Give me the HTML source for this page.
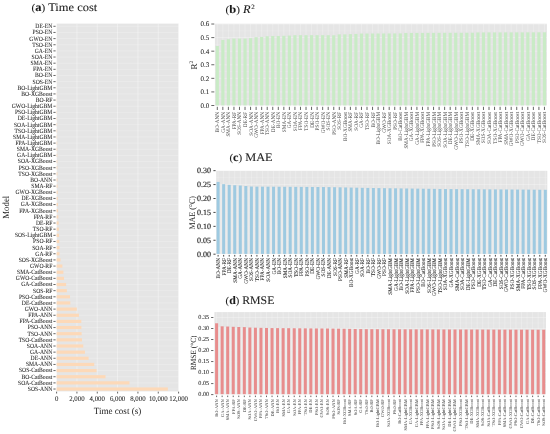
<!DOCTYPE html>
<html><head><meta charset="utf-8"><title>Figure</title>
<style>html,body{margin:0;padding:0;background:#fff;width:550px;height:434px;overflow:hidden}svg text{font-family:"Liberation Serif", serif;text-rendering:geometricPrecision} text.tl{stroke:#1E1E1E;stroke-width:0.06px} text.tb{stroke:#1E1E1E;stroke-width:0.15px} text.tt{stroke:#1A1A1A;stroke-width:0.08px}</style>
</head><body>
<svg width="550" height="434" viewBox="0 0 550 434" style="display:block;will-change:transform;filter:blur(0.3px)">
<rect x="0" y="0" width="550" height="434" fill="#FFFFFF"/>
<rect x="56.6" y="23.6" width="122" height="367.8" fill="#E5E5E5"/>
<line x1="56.6" y1="23.6" x2="56.6" y2="391.4" stroke="#FFFFFF" stroke-width="0.38"/>
<line x1="76.93" y1="23.6" x2="76.93" y2="391.4" stroke="#FFFFFF" stroke-width="0.38"/>
<line x1="97.27" y1="23.6" x2="97.27" y2="391.4" stroke="#FFFFFF" stroke-width="0.38"/>
<line x1="117.6" y1="23.6" x2="117.6" y2="391.4" stroke="#FFFFFF" stroke-width="0.38"/>
<line x1="137.93" y1="23.6" x2="137.93" y2="391.4" stroke="#FFFFFF" stroke-width="0.38"/>
<line x1="158.27" y1="23.6" x2="158.27" y2="391.4" stroke="#FFFFFF" stroke-width="0.38"/>
<line x1="178.6" y1="23.6" x2="178.6" y2="391.4" stroke="#FFFFFF" stroke-width="0.38"/>
<line x1="56.6" y1="26.3" x2="178.6" y2="26.3" stroke="#FFFFFF" stroke-width="0.22"/>
<line x1="56.6" y1="32.45" x2="178.6" y2="32.45" stroke="#FFFFFF" stroke-width="0.22"/>
<line x1="56.6" y1="38.6" x2="178.6" y2="38.6" stroke="#FFFFFF" stroke-width="0.22"/>
<line x1="56.6" y1="44.74" x2="178.6" y2="44.74" stroke="#FFFFFF" stroke-width="0.22"/>
<line x1="56.6" y1="50.89" x2="178.6" y2="50.89" stroke="#FFFFFF" stroke-width="0.22"/>
<line x1="56.6" y1="57.04" x2="178.6" y2="57.04" stroke="#FFFFFF" stroke-width="0.22"/>
<line x1="56.6" y1="63.19" x2="178.6" y2="63.19" stroke="#FFFFFF" stroke-width="0.22"/>
<line x1="56.6" y1="69.34" x2="178.6" y2="69.34" stroke="#FFFFFF" stroke-width="0.22"/>
<line x1="56.6" y1="75.48" x2="178.6" y2="75.48" stroke="#FFFFFF" stroke-width="0.22"/>
<line x1="56.6" y1="81.63" x2="178.6" y2="81.63" stroke="#FFFFFF" stroke-width="0.22"/>
<line x1="56.6" y1="87.78" x2="178.6" y2="87.78" stroke="#FFFFFF" stroke-width="0.22"/>
<line x1="56.6" y1="93.93" x2="178.6" y2="93.93" stroke="#FFFFFF" stroke-width="0.22"/>
<line x1="56.6" y1="100.08" x2="178.6" y2="100.08" stroke="#FFFFFF" stroke-width="0.22"/>
<line x1="56.6" y1="106.22" x2="178.6" y2="106.22" stroke="#FFFFFF" stroke-width="0.22"/>
<line x1="56.6" y1="112.37" x2="178.6" y2="112.37" stroke="#FFFFFF" stroke-width="0.22"/>
<line x1="56.6" y1="118.52" x2="178.6" y2="118.52" stroke="#FFFFFF" stroke-width="0.22"/>
<line x1="56.6" y1="124.67" x2="178.6" y2="124.67" stroke="#FFFFFF" stroke-width="0.22"/>
<line x1="56.6" y1="130.82" x2="178.6" y2="130.82" stroke="#FFFFFF" stroke-width="0.22"/>
<line x1="56.6" y1="136.96" x2="178.6" y2="136.96" stroke="#FFFFFF" stroke-width="0.22"/>
<line x1="56.6" y1="143.11" x2="178.6" y2="143.11" stroke="#FFFFFF" stroke-width="0.22"/>
<line x1="56.6" y1="149.26" x2="178.6" y2="149.26" stroke="#FFFFFF" stroke-width="0.22"/>
<line x1="56.6" y1="155.41" x2="178.6" y2="155.41" stroke="#FFFFFF" stroke-width="0.22"/>
<line x1="56.6" y1="161.56" x2="178.6" y2="161.56" stroke="#FFFFFF" stroke-width="0.22"/>
<line x1="56.6" y1="167.7" x2="178.6" y2="167.7" stroke="#FFFFFF" stroke-width="0.22"/>
<line x1="56.6" y1="173.85" x2="178.6" y2="173.85" stroke="#FFFFFF" stroke-width="0.22"/>
<line x1="56.6" y1="180" x2="178.6" y2="180" stroke="#FFFFFF" stroke-width="0.22"/>
<line x1="56.6" y1="186.15" x2="178.6" y2="186.15" stroke="#FFFFFF" stroke-width="0.22"/>
<line x1="56.6" y1="192.3" x2="178.6" y2="192.3" stroke="#FFFFFF" stroke-width="0.22"/>
<line x1="56.6" y1="198.44" x2="178.6" y2="198.44" stroke="#FFFFFF" stroke-width="0.22"/>
<line x1="56.6" y1="204.59" x2="178.6" y2="204.59" stroke="#FFFFFF" stroke-width="0.22"/>
<line x1="56.6" y1="210.74" x2="178.6" y2="210.74" stroke="#FFFFFF" stroke-width="0.22"/>
<line x1="56.6" y1="216.89" x2="178.6" y2="216.89" stroke="#FFFFFF" stroke-width="0.22"/>
<line x1="56.6" y1="223.04" x2="178.6" y2="223.04" stroke="#FFFFFF" stroke-width="0.22"/>
<line x1="56.6" y1="229.18" x2="178.6" y2="229.18" stroke="#FFFFFF" stroke-width="0.22"/>
<line x1="56.6" y1="235.33" x2="178.6" y2="235.33" stroke="#FFFFFF" stroke-width="0.22"/>
<line x1="56.6" y1="241.48" x2="178.6" y2="241.48" stroke="#FFFFFF" stroke-width="0.22"/>
<line x1="56.6" y1="247.63" x2="178.6" y2="247.63" stroke="#FFFFFF" stroke-width="0.22"/>
<line x1="56.6" y1="253.78" x2="178.6" y2="253.78" stroke="#FFFFFF" stroke-width="0.22"/>
<line x1="56.6" y1="259.92" x2="178.6" y2="259.92" stroke="#FFFFFF" stroke-width="0.22"/>
<line x1="56.6" y1="266.07" x2="178.6" y2="266.07" stroke="#FFFFFF" stroke-width="0.22"/>
<line x1="56.6" y1="272.22" x2="178.6" y2="272.22" stroke="#FFFFFF" stroke-width="0.22"/>
<line x1="56.6" y1="278.37" x2="178.6" y2="278.37" stroke="#FFFFFF" stroke-width="0.22"/>
<line x1="56.6" y1="284.52" x2="178.6" y2="284.52" stroke="#FFFFFF" stroke-width="0.22"/>
<line x1="56.6" y1="290.66" x2="178.6" y2="290.66" stroke="#FFFFFF" stroke-width="0.22"/>
<line x1="56.6" y1="296.81" x2="178.6" y2="296.81" stroke="#FFFFFF" stroke-width="0.22"/>
<line x1="56.6" y1="302.96" x2="178.6" y2="302.96" stroke="#FFFFFF" stroke-width="0.22"/>
<line x1="56.6" y1="309.11" x2="178.6" y2="309.11" stroke="#FFFFFF" stroke-width="0.22"/>
<line x1="56.6" y1="315.26" x2="178.6" y2="315.26" stroke="#FFFFFF" stroke-width="0.22"/>
<line x1="56.6" y1="321.4" x2="178.6" y2="321.4" stroke="#FFFFFF" stroke-width="0.22"/>
<line x1="56.6" y1="327.55" x2="178.6" y2="327.55" stroke="#FFFFFF" stroke-width="0.22"/>
<line x1="56.6" y1="333.7" x2="178.6" y2="333.7" stroke="#FFFFFF" stroke-width="0.22"/>
<line x1="56.6" y1="339.85" x2="178.6" y2="339.85" stroke="#FFFFFF" stroke-width="0.22"/>
<line x1="56.6" y1="346" x2="178.6" y2="346" stroke="#FFFFFF" stroke-width="0.22"/>
<line x1="56.6" y1="352.14" x2="178.6" y2="352.14" stroke="#FFFFFF" stroke-width="0.22"/>
<line x1="56.6" y1="358.29" x2="178.6" y2="358.29" stroke="#FFFFFF" stroke-width="0.22"/>
<line x1="56.6" y1="364.44" x2="178.6" y2="364.44" stroke="#FFFFFF" stroke-width="0.22"/>
<line x1="56.6" y1="370.59" x2="178.6" y2="370.59" stroke="#FFFFFF" stroke-width="0.22"/>
<line x1="56.6" y1="376.74" x2="178.6" y2="376.74" stroke="#FFFFFF" stroke-width="0.22"/>
<line x1="56.6" y1="382.88" x2="178.6" y2="382.88" stroke="#FFFFFF" stroke-width="0.22"/>
<line x1="56.6" y1="389.03" x2="178.6" y2="389.03" stroke="#FFFFFF" stroke-width="0.22"/>
<rect x="56.6" y="24.7" width="0.05" height="3.2" fill="#FDD9B8"/>
<rect x="56.6" y="30.85" width="0.06" height="3.2" fill="#FDD9B8"/>
<rect x="56.6" y="37" width="0.06" height="3.2" fill="#FDD9B8"/>
<rect x="56.6" y="43.14" width="0.07" height="3.2" fill="#FDD9B8"/>
<rect x="56.6" y="49.29" width="0.07" height="3.2" fill="#FDD9B8"/>
<rect x="56.6" y="55.44" width="0.08" height="3.2" fill="#FDD9B8"/>
<rect x="56.6" y="61.59" width="0.08" height="3.2" fill="#FDD9B8"/>
<rect x="56.6" y="67.74" width="0.09" height="3.2" fill="#FDD9B8"/>
<rect x="56.6" y="73.88" width="0.1" height="3.2" fill="#FDD9B8"/>
<rect x="56.6" y="80.03" width="0.11" height="3.2" fill="#FDD9B8"/>
<rect x="56.6" y="86.18" width="0.18" height="3.2" fill="#FDD9B8"/>
<rect x="56.6" y="92.33" width="0.22" height="3.2" fill="#FDD9B8"/>
<rect x="56.6" y="98.48" width="0.28" height="3.2" fill="#FDD9B8"/>
<rect x="56.6" y="104.62" width="0.35" height="3.2" fill="#FDD9B8"/>
<rect x="56.6" y="110.77" width="0.39" height="3.2" fill="#FDD9B8"/>
<rect x="56.6" y="116.92" width="0.43" height="3.2" fill="#FDD9B8"/>
<rect x="56.6" y="123.07" width="0.47" height="3.2" fill="#FDD9B8"/>
<rect x="56.6" y="129.22" width="0.51" height="3.2" fill="#FDD9B8"/>
<rect x="56.6" y="135.36" width="0.55" height="3.2" fill="#FDD9B8"/>
<rect x="56.6" y="141.51" width="0.59" height="3.2" fill="#FDD9B8"/>
<rect x="56.6" y="147.66" width="0.63" height="3.2" fill="#FDD9B8"/>
<rect x="56.6" y="153.81" width="0.67" height="3.2" fill="#FDD9B8"/>
<rect x="56.6" y="159.96" width="0.71" height="3.2" fill="#FDD9B8"/>
<rect x="56.6" y="166.1" width="0.77" height="3.2" fill="#FDD9B8"/>
<rect x="56.6" y="172.25" width="0.83" height="3.2" fill="#FDD9B8"/>
<rect x="56.6" y="178.4" width="0.91" height="3.2" fill="#FDD9B8"/>
<rect x="56.6" y="184.55" width="1" height="3.2" fill="#FDD9B8"/>
<rect x="56.6" y="190.7" width="1.1" height="3.2" fill="#FDD9B8"/>
<rect x="56.6" y="196.84" width="1.2" height="3.2" fill="#FDD9B8"/>
<rect x="56.6" y="202.99" width="1.32" height="3.2" fill="#FDD9B8"/>
<rect x="56.6" y="209.14" width="1.47" height="3.2" fill="#FDD9B8"/>
<rect x="56.6" y="215.29" width="1.73" height="3.2" fill="#FDD9B8"/>
<rect x="56.6" y="221.44" width="2.08" height="3.2" fill="#FDD9B8"/>
<rect x="56.6" y="227.58" width="2.29" height="3.2" fill="#FDD9B8"/>
<rect x="56.6" y="233.73" width="2.49" height="3.2" fill="#FDD9B8"/>
<rect x="56.6" y="239.88" width="2.69" height="3.2" fill="#FDD9B8"/>
<rect x="56.6" y="246.03" width="2.9" height="3.2" fill="#FDD9B8"/>
<rect x="56.6" y="252.18" width="2.95" height="3.2" fill="#FDD9B8"/>
<rect x="56.6" y="258.32" width="3.91" height="3.2" fill="#FDD9B8"/>
<rect x="56.6" y="264.47" width="5.8" height="3.2" fill="#FDD9B8"/>
<rect x="56.6" y="270.62" width="6.81" height="3.2" fill="#FDD9B8"/>
<rect x="56.6" y="276.77" width="7.42" height="3.2" fill="#FDD9B8"/>
<rect x="56.6" y="282.92" width="9.51" height="3.2" fill="#FDD9B8"/>
<rect x="56.6" y="289.06" width="10.27" height="3.2" fill="#FDD9B8"/>
<rect x="56.6" y="295.21" width="13.42" height="3.2" fill="#FDD9B8"/>
<rect x="56.6" y="301.36" width="13.73" height="3.2" fill="#FDD9B8"/>
<rect x="56.6" y="307.51" width="20.23" height="3.2" fill="#FDD9B8"/>
<rect x="56.6" y="313.66" width="22.37" height="3.2" fill="#FDD9B8"/>
<rect x="56.6" y="319.8" width="24.71" height="3.2" fill="#FDD9B8"/>
<rect x="56.6" y="325.95" width="24.81" height="3.2" fill="#FDD9B8"/>
<rect x="56.6" y="332.1" width="25.01" height="3.2" fill="#FDD9B8"/>
<rect x="56.6" y="338.25" width="25.42" height="3.2" fill="#FDD9B8"/>
<rect x="56.6" y="344.4" width="26.64" height="3.2" fill="#FDD9B8"/>
<rect x="56.6" y="350.54" width="28.37" height="3.2" fill="#FDD9B8"/>
<rect x="56.6" y="356.69" width="32.02" height="3.2" fill="#FDD9B8"/>
<rect x="56.6" y="362.84" width="37.62" height="3.2" fill="#FDD9B8"/>
<rect x="56.6" y="368.99" width="39.96" height="3.2" fill="#FDD9B8"/>
<rect x="56.6" y="375.14" width="48.9" height="3.2" fill="#FDD9B8"/>
<rect x="56.6" y="381.28" width="72.9" height="3.2" fill="#FDD9B8"/>
<rect x="56.6" y="387.43" width="111.22" height="3.2" fill="#FDD9B8"/>
<line x1="53.4" y1="26.3" x2="55.6" y2="26.3" stroke="#333333" stroke-width="0.75"/>
<text class="tl" transform="translate(52.3,28.2) scale(0.885,1)" font-size="6.4" fill="#1E1E1E" text-anchor="end">DE-EN</text>
<line x1="53.4" y1="32.45" x2="55.6" y2="32.45" stroke="#333333" stroke-width="0.75"/>
<text class="tl" transform="translate(52.3,34.35) scale(0.885,1)" font-size="6.4" fill="#1E1E1E" text-anchor="end">PSO-EN</text>
<line x1="53.4" y1="38.6" x2="55.6" y2="38.6" stroke="#333333" stroke-width="0.75"/>
<text class="tl" transform="translate(52.3,40.5) scale(0.885,1)" font-size="6.4" fill="#1E1E1E" text-anchor="end">GWO-EN</text>
<line x1="53.4" y1="44.74" x2="55.6" y2="44.74" stroke="#333333" stroke-width="0.75"/>
<text class="tl" transform="translate(52.3,46.64) scale(0.885,1)" font-size="6.4" fill="#1E1E1E" text-anchor="end">TSO-EN</text>
<line x1="53.4" y1="50.89" x2="55.6" y2="50.89" stroke="#333333" stroke-width="0.75"/>
<text class="tl" transform="translate(52.3,52.79) scale(0.885,1)" font-size="6.4" fill="#1E1E1E" text-anchor="end">GA-EN</text>
<line x1="53.4" y1="57.04" x2="55.6" y2="57.04" stroke="#333333" stroke-width="0.75"/>
<text class="tl" transform="translate(52.3,58.94) scale(0.885,1)" font-size="6.4" fill="#1E1E1E" text-anchor="end">SOA-EN</text>
<line x1="53.4" y1="63.19" x2="55.6" y2="63.19" stroke="#333333" stroke-width="0.75"/>
<text class="tl" transform="translate(52.3,65.09) scale(0.885,1)" font-size="6.4" fill="#1E1E1E" text-anchor="end">SMA-EN</text>
<line x1="53.4" y1="69.34" x2="55.6" y2="69.34" stroke="#333333" stroke-width="0.75"/>
<text class="tl" transform="translate(52.3,71.24) scale(0.885,1)" font-size="6.4" fill="#1E1E1E" text-anchor="end">FPA-EN</text>
<line x1="53.4" y1="75.48" x2="55.6" y2="75.48" stroke="#333333" stroke-width="0.75"/>
<text class="tl" transform="translate(52.3,77.38) scale(0.885,1)" font-size="6.4" fill="#1E1E1E" text-anchor="end">BO-EN</text>
<line x1="53.4" y1="81.63" x2="55.6" y2="81.63" stroke="#333333" stroke-width="0.75"/>
<text class="tl" transform="translate(52.3,83.53) scale(0.885,1)" font-size="6.4" fill="#1E1E1E" text-anchor="end">SOS-EN</text>
<line x1="53.4" y1="87.78" x2="55.6" y2="87.78" stroke="#333333" stroke-width="0.75"/>
<text class="tl" transform="translate(52.3,89.68) scale(0.885,1)" font-size="6.4" fill="#1E1E1E" text-anchor="end">BO-LightGBM</text>
<line x1="53.4" y1="93.93" x2="55.6" y2="93.93" stroke="#333333" stroke-width="0.75"/>
<text class="tl" transform="translate(52.3,95.83) scale(0.885,1)" font-size="6.4" fill="#1E1E1E" text-anchor="end">BO-XGBoost</text>
<line x1="53.4" y1="100.08" x2="55.6" y2="100.08" stroke="#333333" stroke-width="0.75"/>
<text class="tl" transform="translate(52.3,101.98) scale(0.885,1)" font-size="6.4" fill="#1E1E1E" text-anchor="end">BO-RF</text>
<line x1="53.4" y1="106.22" x2="55.6" y2="106.22" stroke="#333333" stroke-width="0.75"/>
<text class="tl" transform="translate(52.3,108.12) scale(0.885,1)" font-size="6.4" fill="#1E1E1E" text-anchor="end">GWO-LightGBM</text>
<line x1="53.4" y1="112.37" x2="55.6" y2="112.37" stroke="#333333" stroke-width="0.75"/>
<text class="tl" transform="translate(52.3,114.27) scale(0.885,1)" font-size="6.4" fill="#1E1E1E" text-anchor="end">PSO-LightGBM</text>
<line x1="53.4" y1="118.52" x2="55.6" y2="118.52" stroke="#333333" stroke-width="0.75"/>
<text class="tl" transform="translate(52.3,120.42) scale(0.885,1)" font-size="6.4" fill="#1E1E1E" text-anchor="end">DE-LightGBM</text>
<line x1="53.4" y1="124.67" x2="55.6" y2="124.67" stroke="#333333" stroke-width="0.75"/>
<text class="tl" transform="translate(52.3,126.57) scale(0.885,1)" font-size="6.4" fill="#1E1E1E" text-anchor="end">SOA-LightGBM</text>
<line x1="53.4" y1="130.82" x2="55.6" y2="130.82" stroke="#333333" stroke-width="0.75"/>
<text class="tl" transform="translate(52.3,132.72) scale(0.885,1)" font-size="6.4" fill="#1E1E1E" text-anchor="end">TSO-LightGBM</text>
<line x1="53.4" y1="136.96" x2="55.6" y2="136.96" stroke="#333333" stroke-width="0.75"/>
<text class="tl" transform="translate(52.3,138.86) scale(0.885,1)" font-size="6.4" fill="#1E1E1E" text-anchor="end">SMA-LightGBM</text>
<line x1="53.4" y1="143.11" x2="55.6" y2="143.11" stroke="#333333" stroke-width="0.75"/>
<text class="tl" transform="translate(52.3,145.01) scale(0.885,1)" font-size="6.4" fill="#1E1E1E" text-anchor="end">FPA-LightGBM</text>
<line x1="53.4" y1="149.26" x2="55.6" y2="149.26" stroke="#333333" stroke-width="0.75"/>
<text class="tl" transform="translate(52.3,151.16) scale(0.885,1)" font-size="6.4" fill="#1E1E1E" text-anchor="end">SMA-XGBoost</text>
<line x1="53.4" y1="155.41" x2="55.6" y2="155.41" stroke="#333333" stroke-width="0.75"/>
<text class="tl" transform="translate(52.3,157.31) scale(0.885,1)" font-size="6.4" fill="#1E1E1E" text-anchor="end">GA-LightGBM</text>
<line x1="53.4" y1="161.56" x2="55.6" y2="161.56" stroke="#333333" stroke-width="0.75"/>
<text class="tl" transform="translate(52.3,163.46) scale(0.885,1)" font-size="6.4" fill="#1E1E1E" text-anchor="end">SOA-XGBoost</text>
<line x1="53.4" y1="167.7" x2="55.6" y2="167.7" stroke="#333333" stroke-width="0.75"/>
<text class="tl" transform="translate(52.3,169.6) scale(0.885,1)" font-size="6.4" fill="#1E1E1E" text-anchor="end">PSO-XGBoost</text>
<line x1="53.4" y1="173.85" x2="55.6" y2="173.85" stroke="#333333" stroke-width="0.75"/>
<text class="tl" transform="translate(52.3,175.75) scale(0.885,1)" font-size="6.4" fill="#1E1E1E" text-anchor="end">TSO-XGBoost</text>
<line x1="53.4" y1="180" x2="55.6" y2="180" stroke="#333333" stroke-width="0.75"/>
<text class="tl" transform="translate(52.3,181.9) scale(0.885,1)" font-size="6.4" fill="#1E1E1E" text-anchor="end">BO-ANN</text>
<line x1="53.4" y1="186.15" x2="55.6" y2="186.15" stroke="#333333" stroke-width="0.75"/>
<text class="tl" transform="translate(52.3,188.05) scale(0.885,1)" font-size="6.4" fill="#1E1E1E" text-anchor="end">SMA-RF</text>
<line x1="53.4" y1="192.3" x2="55.6" y2="192.3" stroke="#333333" stroke-width="0.75"/>
<text class="tl" transform="translate(52.3,194.2) scale(0.885,1)" font-size="6.4" fill="#1E1E1E" text-anchor="end">GWO-XGBoost</text>
<line x1="53.4" y1="198.44" x2="55.6" y2="198.44" stroke="#333333" stroke-width="0.75"/>
<text class="tl" transform="translate(52.3,200.34) scale(0.885,1)" font-size="6.4" fill="#1E1E1E" text-anchor="end">DE-XGBoost</text>
<line x1="53.4" y1="204.59" x2="55.6" y2="204.59" stroke="#333333" stroke-width="0.75"/>
<text class="tl" transform="translate(52.3,206.49) scale(0.885,1)" font-size="6.4" fill="#1E1E1E" text-anchor="end">GA-XGBoost</text>
<line x1="53.4" y1="210.74" x2="55.6" y2="210.74" stroke="#333333" stroke-width="0.75"/>
<text class="tl" transform="translate(52.3,212.64) scale(0.885,1)" font-size="6.4" fill="#1E1E1E" text-anchor="end">FPA-XGBoost</text>
<line x1="53.4" y1="216.89" x2="55.6" y2="216.89" stroke="#333333" stroke-width="0.75"/>
<text class="tl" transform="translate(52.3,218.79) scale(0.885,1)" font-size="6.4" fill="#1E1E1E" text-anchor="end">FPA-RF</text>
<line x1="53.4" y1="223.04" x2="55.6" y2="223.04" stroke="#333333" stroke-width="0.75"/>
<text class="tl" transform="translate(52.3,224.94) scale(0.885,1)" font-size="6.4" fill="#1E1E1E" text-anchor="end">DE-RF</text>
<line x1="53.4" y1="229.18" x2="55.6" y2="229.18" stroke="#333333" stroke-width="0.75"/>
<text class="tl" transform="translate(52.3,231.08) scale(0.885,1)" font-size="6.4" fill="#1E1E1E" text-anchor="end">TSO-RF</text>
<line x1="53.4" y1="235.33" x2="55.6" y2="235.33" stroke="#333333" stroke-width="0.75"/>
<text class="tl" transform="translate(52.3,237.23) scale(0.885,1)" font-size="6.4" fill="#1E1E1E" text-anchor="end">SOS-LightGBM</text>
<line x1="53.4" y1="241.48" x2="55.6" y2="241.48" stroke="#333333" stroke-width="0.75"/>
<text class="tl" transform="translate(52.3,243.38) scale(0.885,1)" font-size="6.4" fill="#1E1E1E" text-anchor="end">PSO-RF</text>
<line x1="53.4" y1="247.63" x2="55.6" y2="247.63" stroke="#333333" stroke-width="0.75"/>
<text class="tl" transform="translate(52.3,249.53) scale(0.885,1)" font-size="6.4" fill="#1E1E1E" text-anchor="end">SOA-RF</text>
<line x1="53.4" y1="253.78" x2="55.6" y2="253.78" stroke="#333333" stroke-width="0.75"/>
<text class="tl" transform="translate(52.3,255.68) scale(0.885,1)" font-size="6.4" fill="#1E1E1E" text-anchor="end">GA-RF</text>
<line x1="53.4" y1="259.92" x2="55.6" y2="259.92" stroke="#333333" stroke-width="0.75"/>
<text class="tl" transform="translate(52.3,261.82) scale(0.885,1)" font-size="6.4" fill="#1E1E1E" text-anchor="end">SOS-XGBoost</text>
<line x1="53.4" y1="266.07" x2="55.6" y2="266.07" stroke="#333333" stroke-width="0.75"/>
<text class="tl" transform="translate(52.3,267.97) scale(0.885,1)" font-size="6.4" fill="#1E1E1E" text-anchor="end">GWO-RF</text>
<line x1="53.4" y1="272.22" x2="55.6" y2="272.22" stroke="#333333" stroke-width="0.75"/>
<text class="tl" transform="translate(52.3,274.12) scale(0.885,1)" font-size="6.4" fill="#1E1E1E" text-anchor="end">SMA-CatBoost</text>
<line x1="53.4" y1="278.37" x2="55.6" y2="278.37" stroke="#333333" stroke-width="0.75"/>
<text class="tl" transform="translate(52.3,280.27) scale(0.885,1)" font-size="6.4" fill="#1E1E1E" text-anchor="end">GWO-CatBoost</text>
<line x1="53.4" y1="284.52" x2="55.6" y2="284.52" stroke="#333333" stroke-width="0.75"/>
<text class="tl" transform="translate(52.3,286.42) scale(0.885,1)" font-size="6.4" fill="#1E1E1E" text-anchor="end">GA-CatBoost</text>
<line x1="53.4" y1="290.66" x2="55.6" y2="290.66" stroke="#333333" stroke-width="0.75"/>
<text class="tl" transform="translate(52.3,292.56) scale(0.885,1)" font-size="6.4" fill="#1E1E1E" text-anchor="end">SOS-RF</text>
<line x1="53.4" y1="296.81" x2="55.6" y2="296.81" stroke="#333333" stroke-width="0.75"/>
<text class="tl" transform="translate(52.3,298.71) scale(0.885,1)" font-size="6.4" fill="#1E1E1E" text-anchor="end">PSO-CatBoost</text>
<line x1="53.4" y1="302.96" x2="55.6" y2="302.96" stroke="#333333" stroke-width="0.75"/>
<text class="tl" transform="translate(52.3,304.86) scale(0.885,1)" font-size="6.4" fill="#1E1E1E" text-anchor="end">DE-CatBoost</text>
<line x1="53.4" y1="309.11" x2="55.6" y2="309.11" stroke="#333333" stroke-width="0.75"/>
<text class="tl" transform="translate(52.3,311.01) scale(0.885,1)" font-size="6.4" fill="#1E1E1E" text-anchor="end">GWO-ANN</text>
<line x1="53.4" y1="315.26" x2="55.6" y2="315.26" stroke="#333333" stroke-width="0.75"/>
<text class="tl" transform="translate(52.3,317.16) scale(0.885,1)" font-size="6.4" fill="#1E1E1E" text-anchor="end">FPA-ANN</text>
<line x1="53.4" y1="321.4" x2="55.6" y2="321.4" stroke="#333333" stroke-width="0.75"/>
<text class="tl" transform="translate(52.3,323.3) scale(0.885,1)" font-size="6.4" fill="#1E1E1E" text-anchor="end">FPA-CatBoost</text>
<line x1="53.4" y1="327.55" x2="55.6" y2="327.55" stroke="#333333" stroke-width="0.75"/>
<text class="tl" transform="translate(52.3,329.45) scale(0.885,1)" font-size="6.4" fill="#1E1E1E" text-anchor="end">PSO-ANN</text>
<line x1="53.4" y1="333.7" x2="55.6" y2="333.7" stroke="#333333" stroke-width="0.75"/>
<text class="tl" transform="translate(52.3,335.6) scale(0.885,1)" font-size="6.4" fill="#1E1E1E" text-anchor="end">TSO-ANN</text>
<line x1="53.4" y1="339.85" x2="55.6" y2="339.85" stroke="#333333" stroke-width="0.75"/>
<text class="tl" transform="translate(52.3,341.75) scale(0.885,1)" font-size="6.4" fill="#1E1E1E" text-anchor="end">TSO-CatBoost</text>
<line x1="53.4" y1="346" x2="55.6" y2="346" stroke="#333333" stroke-width="0.75"/>
<text class="tl" transform="translate(52.3,347.9) scale(0.885,1)" font-size="6.4" fill="#1E1E1E" text-anchor="end">SOA-ANN</text>
<line x1="53.4" y1="352.14" x2="55.6" y2="352.14" stroke="#333333" stroke-width="0.75"/>
<text class="tl" transform="translate(52.3,354.04) scale(0.885,1)" font-size="6.4" fill="#1E1E1E" text-anchor="end">GA-ANN</text>
<line x1="53.4" y1="358.29" x2="55.6" y2="358.29" stroke="#333333" stroke-width="0.75"/>
<text class="tl" transform="translate(52.3,360.19) scale(0.885,1)" font-size="6.4" fill="#1E1E1E" text-anchor="end">DE-ANN</text>
<line x1="53.4" y1="364.44" x2="55.6" y2="364.44" stroke="#333333" stroke-width="0.75"/>
<text class="tl" transform="translate(52.3,366.34) scale(0.885,1)" font-size="6.4" fill="#1E1E1E" text-anchor="end">SMA-ANN</text>
<line x1="53.4" y1="370.59" x2="55.6" y2="370.59" stroke="#333333" stroke-width="0.75"/>
<text class="tl" transform="translate(52.3,372.49) scale(0.885,1)" font-size="6.4" fill="#1E1E1E" text-anchor="end">SOS-CatBoost</text>
<line x1="53.4" y1="376.74" x2="55.6" y2="376.74" stroke="#333333" stroke-width="0.75"/>
<text class="tl" transform="translate(52.3,378.64) scale(0.885,1)" font-size="6.4" fill="#1E1E1E" text-anchor="end">BO-CatBoost</text>
<line x1="53.4" y1="382.88" x2="55.6" y2="382.88" stroke="#333333" stroke-width="0.75"/>
<text class="tl" transform="translate(52.3,384.78) scale(0.885,1)" font-size="6.4" fill="#1E1E1E" text-anchor="end">SOA-CatBoost</text>
<line x1="53.4" y1="389.03" x2="55.6" y2="389.03" stroke="#333333" stroke-width="0.75"/>
<text class="tl" transform="translate(52.3,390.93) scale(0.885,1)" font-size="6.4" fill="#1E1E1E" text-anchor="end">SOS-ANN</text>
<line x1="56.6" y1="391.7" x2="56.6" y2="393.5" stroke="#333333" stroke-width="0.75"/>
<text class="tl" transform="translate(56.6,400.5) scale(0.96,1)" font-size="7.1" fill="#1E1E1E" text-anchor="middle">0</text>
<line x1="76.93" y1="391.7" x2="76.93" y2="393.5" stroke="#333333" stroke-width="0.75"/>
<text class="tl" transform="translate(76.93,400.5) scale(0.96,1)" font-size="7.1" fill="#1E1E1E" text-anchor="middle">2,000</text>
<line x1="97.27" y1="391.7" x2="97.27" y2="393.5" stroke="#333333" stroke-width="0.75"/>
<text class="tl" transform="translate(97.27,400.5) scale(0.96,1)" font-size="7.1" fill="#1E1E1E" text-anchor="middle">4,000</text>
<line x1="117.6" y1="391.7" x2="117.6" y2="393.5" stroke="#333333" stroke-width="0.75"/>
<text class="tl" transform="translate(117.6,400.5) scale(0.96,1)" font-size="7.1" fill="#1E1E1E" text-anchor="middle">6,000</text>
<line x1="137.93" y1="391.7" x2="137.93" y2="393.5" stroke="#333333" stroke-width="0.75"/>
<text class="tl" transform="translate(137.93,400.5) scale(0.96,1)" font-size="7.1" fill="#1E1E1E" text-anchor="middle">8,000</text>
<line x1="158.27" y1="391.7" x2="158.27" y2="393.5" stroke="#333333" stroke-width="0.75"/>
<text class="tl" transform="translate(158.27,400.5) scale(0.96,1)" font-size="7.1" fill="#1E1E1E" text-anchor="middle">10,000</text>
<line x1="178.6" y1="391.7" x2="178.6" y2="393.5" stroke="#333333" stroke-width="0.75"/>
<text class="tl" transform="translate(178.6,400.5) scale(0.96,1)" font-size="7.1" fill="#1E1E1E" text-anchor="middle">12,000</text>
<text transform="translate(117.5,413.5) scale(0.965,1)" font-size="9.4" fill="#1A1A1A" text-anchor="middle">Time cost (s)</text>
<text transform="translate(8.6,207.25) rotate(-90) scale(0.95,1)" font-size="9.3" fill="#1A1A1A" text-anchor="middle">Model</text>
<text class="tt" transform="translate(31.6,10.8) scale(1.075,1)" font-size="11.6" fill="#1A1A1A"><tspan font-size="10.4">(</tspan><tspan font-weight="bold">a</tspan><tspan font-size="10.4">)</tspan><tspan> Time cost</tspan></text>
<rect x="214.9" y="23.7" width="332" height="81.7" fill="#E5E5E5"/>
<line x1="214.9" y1="98.71" x2="546.9" y2="98.71" stroke="#FFFFFF" stroke-width="0.15"/>
<line x1="214.9" y1="85.13" x2="546.9" y2="85.13" stroke="#FFFFFF" stroke-width="0.15"/>
<line x1="214.9" y1="71.55" x2="546.9" y2="71.55" stroke="#FFFFFF" stroke-width="0.15"/>
<line x1="214.9" y1="57.97" x2="546.9" y2="57.97" stroke="#FFFFFF" stroke-width="0.15"/>
<line x1="214.9" y1="44.39" x2="546.9" y2="44.39" stroke="#FFFFFF" stroke-width="0.15"/>
<line x1="214.9" y1="30.81" x2="546.9" y2="30.81" stroke="#FFFFFF" stroke-width="0.15"/>
<line x1="214.9" y1="91.92" x2="546.9" y2="91.92" stroke="#FFFFFF" stroke-width="0.3"/>
<line x1="214.9" y1="78.34" x2="546.9" y2="78.34" stroke="#FFFFFF" stroke-width="0.3"/>
<line x1="214.9" y1="64.76" x2="546.9" y2="64.76" stroke="#FFFFFF" stroke-width="0.3"/>
<line x1="214.9" y1="51.18" x2="546.9" y2="51.18" stroke="#FFFFFF" stroke-width="0.3"/>
<line x1="214.9" y1="37.6" x2="546.9" y2="37.6" stroke="#FFFFFF" stroke-width="0.3"/>
<line x1="214.9" y1="24.02" x2="546.9" y2="24.02" stroke="#FFFFFF" stroke-width="0.3"/>
<line x1="217.3" y1="23.7" x2="217.3" y2="105.4" stroke="#FFFFFF" stroke-width="0.25"/>
<line x1="222.84" y1="23.7" x2="222.84" y2="105.4" stroke="#FFFFFF" stroke-width="0.25"/>
<line x1="228.39" y1="23.7" x2="228.39" y2="105.4" stroke="#FFFFFF" stroke-width="0.25"/>
<line x1="233.94" y1="23.7" x2="233.94" y2="105.4" stroke="#FFFFFF" stroke-width="0.25"/>
<line x1="239.48" y1="23.7" x2="239.48" y2="105.4" stroke="#FFFFFF" stroke-width="0.25"/>
<line x1="245.03" y1="23.7" x2="245.03" y2="105.4" stroke="#FFFFFF" stroke-width="0.25"/>
<line x1="250.57" y1="23.7" x2="250.57" y2="105.4" stroke="#FFFFFF" stroke-width="0.25"/>
<line x1="256.12" y1="23.7" x2="256.12" y2="105.4" stroke="#FFFFFF" stroke-width="0.25"/>
<line x1="261.66" y1="23.7" x2="261.66" y2="105.4" stroke="#FFFFFF" stroke-width="0.25"/>
<line x1="267.21" y1="23.7" x2="267.21" y2="105.4" stroke="#FFFFFF" stroke-width="0.25"/>
<line x1="272.75" y1="23.7" x2="272.75" y2="105.4" stroke="#FFFFFF" stroke-width="0.25"/>
<line x1="278.3" y1="23.7" x2="278.3" y2="105.4" stroke="#FFFFFF" stroke-width="0.25"/>
<line x1="283.84" y1="23.7" x2="283.84" y2="105.4" stroke="#FFFFFF" stroke-width="0.25"/>
<line x1="289.38" y1="23.7" x2="289.38" y2="105.4" stroke="#FFFFFF" stroke-width="0.25"/>
<line x1="294.93" y1="23.7" x2="294.93" y2="105.4" stroke="#FFFFFF" stroke-width="0.25"/>
<line x1="300.48" y1="23.7" x2="300.48" y2="105.4" stroke="#FFFFFF" stroke-width="0.25"/>
<line x1="306.02" y1="23.7" x2="306.02" y2="105.4" stroke="#FFFFFF" stroke-width="0.25"/>
<line x1="311.56" y1="23.7" x2="311.56" y2="105.4" stroke="#FFFFFF" stroke-width="0.25"/>
<line x1="317.11" y1="23.7" x2="317.11" y2="105.4" stroke="#FFFFFF" stroke-width="0.25"/>
<line x1="322.66" y1="23.7" x2="322.66" y2="105.4" stroke="#FFFFFF" stroke-width="0.25"/>
<line x1="328.2" y1="23.7" x2="328.2" y2="105.4" stroke="#FFFFFF" stroke-width="0.25"/>
<line x1="333.75" y1="23.7" x2="333.75" y2="105.4" stroke="#FFFFFF" stroke-width="0.25"/>
<line x1="339.29" y1="23.7" x2="339.29" y2="105.4" stroke="#FFFFFF" stroke-width="0.25"/>
<line x1="344.84" y1="23.7" x2="344.84" y2="105.4" stroke="#FFFFFF" stroke-width="0.25"/>
<line x1="350.38" y1="23.7" x2="350.38" y2="105.4" stroke="#FFFFFF" stroke-width="0.25"/>
<line x1="355.93" y1="23.7" x2="355.93" y2="105.4" stroke="#FFFFFF" stroke-width="0.25"/>
<line x1="361.47" y1="23.7" x2="361.47" y2="105.4" stroke="#FFFFFF" stroke-width="0.25"/>
<line x1="367.01" y1="23.7" x2="367.01" y2="105.4" stroke="#FFFFFF" stroke-width="0.25"/>
<line x1="372.56" y1="23.7" x2="372.56" y2="105.4" stroke="#FFFFFF" stroke-width="0.25"/>
<line x1="378.11" y1="23.7" x2="378.11" y2="105.4" stroke="#FFFFFF" stroke-width="0.25"/>
<line x1="383.65" y1="23.7" x2="383.65" y2="105.4" stroke="#FFFFFF" stroke-width="0.25"/>
<line x1="389.2" y1="23.7" x2="389.2" y2="105.4" stroke="#FFFFFF" stroke-width="0.25"/>
<line x1="394.74" y1="23.7" x2="394.74" y2="105.4" stroke="#FFFFFF" stroke-width="0.25"/>
<line x1="400.28" y1="23.7" x2="400.28" y2="105.4" stroke="#FFFFFF" stroke-width="0.25"/>
<line x1="405.83" y1="23.7" x2="405.83" y2="105.4" stroke="#FFFFFF" stroke-width="0.25"/>
<line x1="411.38" y1="23.7" x2="411.38" y2="105.4" stroke="#FFFFFF" stroke-width="0.25"/>
<line x1="416.92" y1="23.7" x2="416.92" y2="105.4" stroke="#FFFFFF" stroke-width="0.25"/>
<line x1="422.47" y1="23.7" x2="422.47" y2="105.4" stroke="#FFFFFF" stroke-width="0.25"/>
<line x1="428.01" y1="23.7" x2="428.01" y2="105.4" stroke="#FFFFFF" stroke-width="0.25"/>
<line x1="433.56" y1="23.7" x2="433.56" y2="105.4" stroke="#FFFFFF" stroke-width="0.25"/>
<line x1="439.1" y1="23.7" x2="439.1" y2="105.4" stroke="#FFFFFF" stroke-width="0.25"/>
<line x1="444.64" y1="23.7" x2="444.64" y2="105.4" stroke="#FFFFFF" stroke-width="0.25"/>
<line x1="450.19" y1="23.7" x2="450.19" y2="105.4" stroke="#FFFFFF" stroke-width="0.25"/>
<line x1="455.74" y1="23.7" x2="455.74" y2="105.4" stroke="#FFFFFF" stroke-width="0.25"/>
<line x1="461.28" y1="23.7" x2="461.28" y2="105.4" stroke="#FFFFFF" stroke-width="0.25"/>
<line x1="466.83" y1="23.7" x2="466.83" y2="105.4" stroke="#FFFFFF" stroke-width="0.25"/>
<line x1="472.37" y1="23.7" x2="472.37" y2="105.4" stroke="#FFFFFF" stroke-width="0.25"/>
<line x1="477.92" y1="23.7" x2="477.92" y2="105.4" stroke="#FFFFFF" stroke-width="0.25"/>
<line x1="483.46" y1="23.7" x2="483.46" y2="105.4" stroke="#FFFFFF" stroke-width="0.25"/>
<line x1="489" y1="23.7" x2="489" y2="105.4" stroke="#FFFFFF" stroke-width="0.25"/>
<line x1="494.55" y1="23.7" x2="494.55" y2="105.4" stroke="#FFFFFF" stroke-width="0.25"/>
<line x1="500.1" y1="23.7" x2="500.1" y2="105.4" stroke="#FFFFFF" stroke-width="0.25"/>
<line x1="505.64" y1="23.7" x2="505.64" y2="105.4" stroke="#FFFFFF" stroke-width="0.25"/>
<line x1="511.19" y1="23.7" x2="511.19" y2="105.4" stroke="#FFFFFF" stroke-width="0.25"/>
<line x1="516.73" y1="23.7" x2="516.73" y2="105.4" stroke="#FFFFFF" stroke-width="0.25"/>
<line x1="522.28" y1="23.7" x2="522.28" y2="105.4" stroke="#FFFFFF" stroke-width="0.25"/>
<line x1="527.82" y1="23.7" x2="527.82" y2="105.4" stroke="#FFFFFF" stroke-width="0.25"/>
<line x1="533.37" y1="23.7" x2="533.37" y2="105.4" stroke="#FFFFFF" stroke-width="0.25"/>
<line x1="538.91" y1="23.7" x2="538.91" y2="105.4" stroke="#FFFFFF" stroke-width="0.25"/>
<line x1="544.45" y1="23.7" x2="544.45" y2="105.4" stroke="#FFFFFF" stroke-width="0.25"/>
<rect x="215.7" y="46.02" width="3.2" height="59.38" fill="#C9EBC6"/>
<rect x="221.25" y="39.91" width="3.2" height="65.49" fill="#C9EBC6"/>
<rect x="226.79" y="39.23" width="3.2" height="66.17" fill="#C9EBC6"/>
<rect x="232.34" y="38.55" width="3.2" height="66.85" fill="#C9EBC6"/>
<rect x="237.88" y="38.55" width="3.2" height="66.85" fill="#C9EBC6"/>
<rect x="243.43" y="38.55" width="3.2" height="66.85" fill="#C9EBC6"/>
<rect x="248.97" y="38.14" width="3.2" height="67.26" fill="#C9EBC6"/>
<rect x="254.52" y="37.19" width="3.2" height="68.21" fill="#C9EBC6"/>
<rect x="260.06" y="36.92" width="3.2" height="68.48" fill="#C9EBC6"/>
<rect x="265.61" y="36.24" width="3.2" height="69.16" fill="#C9EBC6"/>
<rect x="271.15" y="35.97" width="3.2" height="69.43" fill="#C9EBC6"/>
<rect x="276.69" y="35.97" width="3.2" height="69.43" fill="#C9EBC6"/>
<rect x="282.24" y="35.77" width="3.2" height="69.63" fill="#C9EBC6"/>
<rect x="287.78" y="35.56" width="3.2" height="69.84" fill="#C9EBC6"/>
<rect x="293.33" y="35.16" width="3.2" height="70.24" fill="#C9EBC6"/>
<rect x="298.88" y="35.16" width="3.2" height="70.24" fill="#C9EBC6"/>
<rect x="304.42" y="35.16" width="3.2" height="70.24" fill="#C9EBC6"/>
<rect x="309.96" y="35.16" width="3.2" height="70.24" fill="#C9EBC6"/>
<rect x="315.51" y="35.16" width="3.2" height="70.24" fill="#C9EBC6"/>
<rect x="321.06" y="35.16" width="3.2" height="70.24" fill="#C9EBC6"/>
<rect x="326.6" y="35.22" width="3.2" height="70.18" fill="#C9EBC6"/>
<rect x="332.14" y="35.29" width="3.2" height="70.11" fill="#C9EBC6"/>
<rect x="337.69" y="34.34" width="3.2" height="71.06" fill="#C9EBC6"/>
<rect x="343.24" y="34.34" width="3.2" height="71.06" fill="#C9EBC6"/>
<rect x="348.78" y="34.14" width="3.2" height="71.26" fill="#C9EBC6"/>
<rect x="354.32" y="33.93" width="3.2" height="71.47" fill="#C9EBC6"/>
<rect x="359.87" y="33.53" width="3.2" height="71.87" fill="#C9EBC6"/>
<rect x="365.41" y="33.51" width="3.2" height="71.89" fill="#C9EBC6"/>
<rect x="370.96" y="33.49" width="3.2" height="71.91" fill="#C9EBC6"/>
<rect x="376.5" y="33.47" width="3.2" height="71.93" fill="#C9EBC6"/>
<rect x="382.05" y="33.45" width="3.2" height="71.95" fill="#C9EBC6"/>
<rect x="387.6" y="33.43" width="3.2" height="71.97" fill="#C9EBC6"/>
<rect x="393.14" y="33.41" width="3.2" height="71.99" fill="#C9EBC6"/>
<rect x="398.68" y="33.39" width="3.2" height="72.01" fill="#C9EBC6"/>
<rect x="404.23" y="32.98" width="3.2" height="72.42" fill="#C9EBC6"/>
<rect x="409.77" y="32.96" width="3.2" height="72.44" fill="#C9EBC6"/>
<rect x="415.32" y="32.94" width="3.2" height="72.46" fill="#C9EBC6"/>
<rect x="420.87" y="32.91" width="3.2" height="72.49" fill="#C9EBC6"/>
<rect x="426.41" y="32.89" width="3.2" height="72.51" fill="#C9EBC6"/>
<rect x="431.95" y="32.87" width="3.2" height="72.53" fill="#C9EBC6"/>
<rect x="437.5" y="32.85" width="3.2" height="72.55" fill="#C9EBC6"/>
<rect x="443.04" y="32.82" width="3.2" height="72.58" fill="#C9EBC6"/>
<rect x="448.59" y="32.8" width="3.2" height="72.6" fill="#C9EBC6"/>
<rect x="454.13" y="32.78" width="3.2" height="72.62" fill="#C9EBC6"/>
<rect x="459.68" y="32.76" width="3.2" height="72.64" fill="#C9EBC6"/>
<rect x="465.23" y="32.73" width="3.2" height="72.67" fill="#C9EBC6"/>
<rect x="470.77" y="32.71" width="3.2" height="72.69" fill="#C9EBC6"/>
<rect x="476.31" y="32.44" width="3.2" height="72.96" fill="#C9EBC6"/>
<rect x="481.86" y="32.43" width="3.2" height="72.97" fill="#C9EBC6"/>
<rect x="487.4" y="32.42" width="3.2" height="72.98" fill="#C9EBC6"/>
<rect x="492.95" y="32.41" width="3.2" height="72.99" fill="#C9EBC6"/>
<rect x="498.5" y="32.39" width="3.2" height="73.01" fill="#C9EBC6"/>
<rect x="504.04" y="32.38" width="3.2" height="73.02" fill="#C9EBC6"/>
<rect x="509.58" y="32.37" width="3.2" height="73.03" fill="#C9EBC6"/>
<rect x="515.13" y="32.36" width="3.2" height="73.04" fill="#C9EBC6"/>
<rect x="520.68" y="32.35" width="3.2" height="73.05" fill="#C9EBC6"/>
<rect x="526.22" y="32.34" width="3.2" height="73.06" fill="#C9EBC6"/>
<rect x="531.76" y="32.33" width="3.2" height="73.07" fill="#C9EBC6"/>
<rect x="537.31" y="32.32" width="3.2" height="73.08" fill="#C9EBC6"/>
<rect x="542.85" y="32.3" width="3.2" height="73.1" fill="#C9EBC6"/>
<line x1="211.3" y1="105.5" x2="214.3" y2="105.5" stroke="#333333" stroke-width="0.75"/>
<text class="tl" x="209.2" y="107.95" font-size="7.0" fill="#1E1E1E" font-weight="normal" text-anchor="end">0.0</text>
<line x1="211.3" y1="91.92" x2="214.3" y2="91.92" stroke="#333333" stroke-width="0.75"/>
<text class="tl" x="209.2" y="94.37" font-size="7.0" fill="#1E1E1E" font-weight="normal" text-anchor="end">0.1</text>
<line x1="211.3" y1="78.34" x2="214.3" y2="78.34" stroke="#333333" stroke-width="0.75"/>
<text class="tl" x="209.2" y="80.79" font-size="7.0" fill="#1E1E1E" font-weight="normal" text-anchor="end">0.2</text>
<line x1="211.3" y1="64.76" x2="214.3" y2="64.76" stroke="#333333" stroke-width="0.75"/>
<text class="tl" x="209.2" y="67.21" font-size="7.0" fill="#1E1E1E" font-weight="normal" text-anchor="end">0.3</text>
<line x1="211.3" y1="51.18" x2="214.3" y2="51.18" stroke="#333333" stroke-width="0.75"/>
<text class="tl" x="209.2" y="53.63" font-size="7.0" fill="#1E1E1E" font-weight="normal" text-anchor="end">0.4</text>
<line x1="211.3" y1="37.6" x2="214.3" y2="37.6" stroke="#333333" stroke-width="0.75"/>
<text class="tl" x="209.2" y="40.05" font-size="7.0" fill="#1E1E1E" font-weight="normal" text-anchor="end">0.5</text>
<line x1="211.3" y1="24.02" x2="214.3" y2="24.02" stroke="#333333" stroke-width="0.75"/>
<text class="tl" x="209.2" y="26.47" font-size="7.0" fill="#1E1E1E" font-weight="normal" text-anchor="end">0.6</text>
<line x1="217.3" y1="106.8" x2="217.3" y2="110" stroke="#333333" stroke-width="0.75"/>
<text class="tn" transform="translate(219.26,111.9) rotate(-90) scale(0.945,1.0)" font-size="5.6" fill="#444444" font-weight="normal" text-anchor="end">BO-ANN</text>
<line x1="222.84" y1="106.8" x2="222.84" y2="110" stroke="#333333" stroke-width="0.75"/>
<text class="tn" transform="translate(224.81,111.9) rotate(-90) scale(0.945,1.0)" font-size="5.6" fill="#444444" font-weight="normal" text-anchor="end">GA-ANN</text>
<line x1="228.39" y1="106.8" x2="228.39" y2="110" stroke="#333333" stroke-width="0.75"/>
<text class="tn" transform="translate(230.35,111.9) rotate(-90) scale(0.945,1.0)" font-size="5.6" fill="#444444" font-weight="normal" text-anchor="end">SMA-ANN</text>
<line x1="233.94" y1="106.8" x2="233.94" y2="110" stroke="#333333" stroke-width="0.75"/>
<text class="tn" transform="translate(235.9,111.9) rotate(-90) scale(0.945,1.0)" font-size="5.6" fill="#444444" font-weight="normal" text-anchor="end">FPA-RF</text>
<line x1="239.48" y1="106.8" x2="239.48" y2="110" stroke="#333333" stroke-width="0.75"/>
<text class="tn" transform="translate(241.44,111.9) rotate(-90) scale(0.945,1.0)" font-size="5.6" fill="#444444" font-weight="normal" text-anchor="end">SOS-ANN</text>
<line x1="245.03" y1="106.8" x2="245.03" y2="110" stroke="#333333" stroke-width="0.75"/>
<text class="tn" transform="translate(246.99,111.9) rotate(-90) scale(0.945,1.0)" font-size="5.6" fill="#444444" font-weight="normal" text-anchor="end">DE-RF</text>
<line x1="250.57" y1="106.8" x2="250.57" y2="110" stroke="#333333" stroke-width="0.75"/>
<text class="tn" transform="translate(252.53,111.9) rotate(-90) scale(0.945,1.0)" font-size="5.6" fill="#444444" font-weight="normal" text-anchor="end">SOA-ANN</text>
<line x1="256.12" y1="106.8" x2="256.12" y2="110" stroke="#333333" stroke-width="0.75"/>
<text class="tn" transform="translate(258.07,111.9) rotate(-90) scale(0.945,1.0)" font-size="5.6" fill="#444444" font-weight="normal" text-anchor="end">GWO-ANN</text>
<line x1="261.66" y1="106.8" x2="261.66" y2="110" stroke="#333333" stroke-width="0.75"/>
<text class="tn" transform="translate(263.62,111.9) rotate(-90) scale(0.945,1.0)" font-size="5.6" fill="#444444" font-weight="normal" text-anchor="end">FPA-ANN</text>
<line x1="267.21" y1="106.8" x2="267.21" y2="110" stroke="#333333" stroke-width="0.75"/>
<text class="tn" transform="translate(269.17,111.9) rotate(-90) scale(0.945,1.0)" font-size="5.6" fill="#444444" font-weight="normal" text-anchor="end">TSO-ANN</text>
<line x1="272.75" y1="106.8" x2="272.75" y2="110" stroke="#333333" stroke-width="0.75"/>
<text class="tn" transform="translate(274.71,111.9) rotate(-90) scale(0.945,1.0)" font-size="5.6" fill="#444444" font-weight="normal" text-anchor="end">DE-ANN</text>
<line x1="278.3" y1="106.8" x2="278.3" y2="110" stroke="#333333" stroke-width="0.75"/>
<text class="tn" transform="translate(280.25,111.9) rotate(-90) scale(0.945,1.0)" font-size="5.6" fill="#444444" font-weight="normal" text-anchor="end">BO-EN</text>
<line x1="283.84" y1="106.8" x2="283.84" y2="110" stroke="#333333" stroke-width="0.75"/>
<text class="tn" transform="translate(285.8,111.9) rotate(-90) scale(0.945,1.0)" font-size="5.6" fill="#444444" font-weight="normal" text-anchor="end">SMA-EN</text>
<line x1="289.38" y1="106.8" x2="289.38" y2="110" stroke="#333333" stroke-width="0.75"/>
<text class="tn" transform="translate(291.34,111.9) rotate(-90) scale(0.945,1.0)" font-size="5.6" fill="#444444" font-weight="normal" text-anchor="end">GA-EN</text>
<line x1="294.93" y1="106.8" x2="294.93" y2="110" stroke="#333333" stroke-width="0.75"/>
<text class="tn" transform="translate(296.89,111.9) rotate(-90) scale(0.945,1.0)" font-size="5.6" fill="#444444" font-weight="normal" text-anchor="end">SOA-EN</text>
<line x1="300.48" y1="106.8" x2="300.48" y2="110" stroke="#333333" stroke-width="0.75"/>
<text class="tn" transform="translate(302.44,111.9) rotate(-90) scale(0.945,1.0)" font-size="5.6" fill="#444444" font-weight="normal" text-anchor="end">FPA-EN</text>
<line x1="306.02" y1="106.8" x2="306.02" y2="110" stroke="#333333" stroke-width="0.75"/>
<text class="tn" transform="translate(307.98,111.9) rotate(-90) scale(0.945,1.0)" font-size="5.6" fill="#444444" font-weight="normal" text-anchor="end">TSO-EN</text>
<line x1="311.56" y1="106.8" x2="311.56" y2="110" stroke="#333333" stroke-width="0.75"/>
<text class="tn" transform="translate(313.52,111.9) rotate(-90) scale(0.945,1.0)" font-size="5.6" fill="#444444" font-weight="normal" text-anchor="end">DE-EN</text>
<line x1="317.11" y1="106.8" x2="317.11" y2="110" stroke="#333333" stroke-width="0.75"/>
<text class="tn" transform="translate(319.07,111.9) rotate(-90) scale(0.945,1.0)" font-size="5.6" fill="#444444" font-weight="normal" text-anchor="end">PSO-EN</text>
<line x1="322.66" y1="106.8" x2="322.66" y2="110" stroke="#333333" stroke-width="0.75"/>
<text class="tn" transform="translate(324.62,111.9) rotate(-90) scale(0.945,1.0)" font-size="5.6" fill="#444444" font-weight="normal" text-anchor="end">GWO-EN</text>
<line x1="328.2" y1="106.8" x2="328.2" y2="110" stroke="#333333" stroke-width="0.75"/>
<text class="tn" transform="translate(330.16,111.9) rotate(-90) scale(0.945,1.0)" font-size="5.6" fill="#444444" font-weight="normal" text-anchor="end">SOS-EN</text>
<line x1="333.75" y1="106.8" x2="333.75" y2="110" stroke="#333333" stroke-width="0.75"/>
<text class="tn" transform="translate(335.7,111.9) rotate(-90) scale(0.945,1.0)" font-size="5.6" fill="#444444" font-weight="normal" text-anchor="end">PSO-ANN</text>
<line x1="339.29" y1="106.8" x2="339.29" y2="110" stroke="#333333" stroke-width="0.75"/>
<text class="tn" transform="translate(341.25,111.9) rotate(-90) scale(0.945,1.0)" font-size="5.6" fill="#444444" font-weight="normal" text-anchor="end">SOS-RF</text>
<line x1="344.84" y1="106.8" x2="344.84" y2="110" stroke="#333333" stroke-width="0.75"/>
<text class="tn" transform="translate(346.8,111.9) rotate(-90) scale(0.945,1.0)" font-size="5.6" fill="#444444" font-weight="normal" text-anchor="end">BO-XGBoost</text>
<line x1="350.38" y1="106.8" x2="350.38" y2="110" stroke="#333333" stroke-width="0.75"/>
<text class="tn" transform="translate(352.34,111.9) rotate(-90) scale(0.945,1.0)" font-size="5.6" fill="#444444" font-weight="normal" text-anchor="end">SMA-RF</text>
<line x1="355.93" y1="106.8" x2="355.93" y2="110" stroke="#333333" stroke-width="0.75"/>
<text class="tn" transform="translate(357.88,111.9) rotate(-90) scale(0.945,1.0)" font-size="5.6" fill="#444444" font-weight="normal" text-anchor="end">SOA-RF</text>
<line x1="361.47" y1="106.8" x2="361.47" y2="110" stroke="#333333" stroke-width="0.75"/>
<text class="tn" transform="translate(363.43,111.9) rotate(-90) scale(0.945,1.0)" font-size="5.6" fill="#444444" font-weight="normal" text-anchor="end">GA-RF</text>
<line x1="367.01" y1="106.8" x2="367.01" y2="110" stroke="#333333" stroke-width="0.75"/>
<text class="tn" transform="translate(368.97,111.9) rotate(-90) scale(0.945,1.0)" font-size="5.6" fill="#444444" font-weight="normal" text-anchor="end">TSO-RF</text>
<line x1="372.56" y1="106.8" x2="372.56" y2="110" stroke="#333333" stroke-width="0.75"/>
<text class="tn" transform="translate(374.52,111.9) rotate(-90) scale(0.945,1.0)" font-size="5.6" fill="#444444" font-weight="normal" text-anchor="end">BO-RF</text>
<line x1="378.11" y1="106.8" x2="378.11" y2="110" stroke="#333333" stroke-width="0.75"/>
<text class="tn" transform="translate(380.06,111.9) rotate(-90) scale(0.945,1.0)" font-size="5.6" fill="#444444" font-weight="normal" text-anchor="end">BO-LightGBM</text>
<line x1="383.65" y1="106.8" x2="383.65" y2="110" stroke="#333333" stroke-width="0.75"/>
<text class="tn" transform="translate(385.61,111.9) rotate(-90) scale(0.945,1.0)" font-size="5.6" fill="#444444" font-weight="normal" text-anchor="end">GWO-RF</text>
<line x1="389.2" y1="106.8" x2="389.2" y2="110" stroke="#333333" stroke-width="0.75"/>
<text class="tn" transform="translate(391.16,111.9) rotate(-90) scale(0.945,1.0)" font-size="5.6" fill="#444444" font-weight="normal" text-anchor="end">SOA-XGBoost</text>
<line x1="394.74" y1="106.8" x2="394.74" y2="110" stroke="#333333" stroke-width="0.75"/>
<text class="tn" transform="translate(396.7,111.9) rotate(-90) scale(0.945,1.0)" font-size="5.6" fill="#444444" font-weight="normal" text-anchor="end">PSO-RF</text>
<line x1="400.28" y1="106.8" x2="400.28" y2="110" stroke="#333333" stroke-width="0.75"/>
<text class="tn" transform="translate(402.24,111.9) rotate(-90) scale(0.945,1.0)" font-size="5.6" fill="#444444" font-weight="normal" text-anchor="end">BO-CatBoost</text>
<line x1="405.83" y1="106.8" x2="405.83" y2="110" stroke="#333333" stroke-width="0.75"/>
<text class="tn" transform="translate(407.79,111.9) rotate(-90) scale(0.945,1.0)" font-size="5.6" fill="#444444" font-weight="normal" text-anchor="end">SMA-LightGBM</text>
<line x1="411.38" y1="106.8" x2="411.38" y2="110" stroke="#333333" stroke-width="0.75"/>
<text class="tn" transform="translate(413.33,111.9) rotate(-90) scale(0.945,1.0)" font-size="5.6" fill="#444444" font-weight="normal" text-anchor="end">GA-XGBoost</text>
<line x1="416.92" y1="106.8" x2="416.92" y2="110" stroke="#333333" stroke-width="0.75"/>
<text class="tn" transform="translate(418.88,111.9) rotate(-90) scale(0.945,1.0)" font-size="5.6" fill="#444444" font-weight="normal" text-anchor="end">GA-LightGBM</text>
<line x1="422.47" y1="106.8" x2="422.47" y2="110" stroke="#333333" stroke-width="0.75"/>
<text class="tn" transform="translate(424.43,111.9) rotate(-90) scale(0.945,1.0)" font-size="5.6" fill="#444444" font-weight="normal" text-anchor="end">FPA-XGBoost</text>
<line x1="428.01" y1="106.8" x2="428.01" y2="110" stroke="#333333" stroke-width="0.75"/>
<text class="tn" transform="translate(429.97,111.9) rotate(-90) scale(0.945,1.0)" font-size="5.6" fill="#444444" font-weight="normal" text-anchor="end">FPA-LightGBM</text>
<line x1="433.56" y1="106.8" x2="433.56" y2="110" stroke="#333333" stroke-width="0.75"/>
<text class="tn" transform="translate(435.51,111.9) rotate(-90) scale(0.945,1.0)" font-size="5.6" fill="#444444" font-weight="normal" text-anchor="end">PSO-LightGBM</text>
<line x1="439.1" y1="106.8" x2="439.1" y2="110" stroke="#333333" stroke-width="0.75"/>
<text class="tn" transform="translate(441.06,111.9) rotate(-90) scale(0.945,1.0)" font-size="5.6" fill="#444444" font-weight="normal" text-anchor="end">SOS-LightGBM</text>
<line x1="444.64" y1="106.8" x2="444.64" y2="110" stroke="#333333" stroke-width="0.75"/>
<text class="tn" transform="translate(446.6,111.9) rotate(-90) scale(0.945,1.0)" font-size="5.6" fill="#444444" font-weight="normal" text-anchor="end">SOA-LightGBM</text>
<line x1="450.19" y1="106.8" x2="450.19" y2="110" stroke="#333333" stroke-width="0.75"/>
<text class="tn" transform="translate(452.15,111.9) rotate(-90) scale(0.945,1.0)" font-size="5.6" fill="#444444" font-weight="normal" text-anchor="end">DE-LightGBM</text>
<line x1="455.74" y1="106.8" x2="455.74" y2="110" stroke="#333333" stroke-width="0.75"/>
<text class="tn" transform="translate(457.69,111.9) rotate(-90) scale(0.945,1.0)" font-size="5.6" fill="#444444" font-weight="normal" text-anchor="end">GWO-LightGBM</text>
<line x1="461.28" y1="106.8" x2="461.28" y2="110" stroke="#333333" stroke-width="0.75"/>
<text class="tn" transform="translate(463.24,111.9) rotate(-90) scale(0.945,1.0)" font-size="5.6" fill="#444444" font-weight="normal" text-anchor="end">PSO-XGBoost</text>
<line x1="466.83" y1="106.8" x2="466.83" y2="110" stroke="#333333" stroke-width="0.75"/>
<text class="tn" transform="translate(468.79,111.9) rotate(-90) scale(0.945,1.0)" font-size="5.6" fill="#444444" font-weight="normal" text-anchor="end">TSO-LightGBM</text>
<line x1="472.37" y1="106.8" x2="472.37" y2="110" stroke="#333333" stroke-width="0.75"/>
<text class="tn" transform="translate(474.33,111.9) rotate(-90) scale(0.945,1.0)" font-size="5.6" fill="#444444" font-weight="normal" text-anchor="end">DE-XGBoost</text>
<line x1="477.92" y1="106.8" x2="477.92" y2="110" stroke="#333333" stroke-width="0.75"/>
<text class="tn" transform="translate(479.88,111.9) rotate(-90) scale(0.945,1.0)" font-size="5.6" fill="#444444" font-weight="normal" text-anchor="end">SMA-XGBoost</text>
<line x1="483.46" y1="106.8" x2="483.46" y2="110" stroke="#333333" stroke-width="0.75"/>
<text class="tn" transform="translate(485.42,111.9) rotate(-90) scale(0.945,1.0)" font-size="5.6" fill="#444444" font-weight="normal" text-anchor="end">SOS-XGBoost</text>
<line x1="489" y1="106.8" x2="489" y2="110" stroke="#333333" stroke-width="0.75"/>
<text class="tn" transform="translate(490.96,111.9) rotate(-90) scale(0.945,1.0)" font-size="5.6" fill="#444444" font-weight="normal" text-anchor="end">SOA-CatBoost</text>
<line x1="494.55" y1="106.8" x2="494.55" y2="110" stroke="#333333" stroke-width="0.75"/>
<text class="tn" transform="translate(496.51,111.9) rotate(-90) scale(0.945,1.0)" font-size="5.6" fill="#444444" font-weight="normal" text-anchor="end">TSO-XGBoost</text>
<line x1="500.1" y1="106.8" x2="500.1" y2="110" stroke="#333333" stroke-width="0.75"/>
<text class="tn" transform="translate(502.06,111.9) rotate(-90) scale(0.945,1.0)" font-size="5.6" fill="#444444" font-weight="normal" text-anchor="end">FPA-CatBoost</text>
<line x1="505.64" y1="106.8" x2="505.64" y2="110" stroke="#333333" stroke-width="0.75"/>
<text class="tn" transform="translate(507.6,111.9) rotate(-90) scale(0.945,1.0)" font-size="5.6" fill="#444444" font-weight="normal" text-anchor="end">SMA-CatBoost</text>
<line x1="511.19" y1="106.8" x2="511.19" y2="110" stroke="#333333" stroke-width="0.75"/>
<text class="tn" transform="translate(513.14,111.9) rotate(-90) scale(0.945,1.0)" font-size="5.6" fill="#444444" font-weight="normal" text-anchor="end">GWO-XGBoost</text>
<line x1="516.73" y1="106.8" x2="516.73" y2="110" stroke="#333333" stroke-width="0.75"/>
<text class="tn" transform="translate(518.69,111.9) rotate(-90) scale(0.945,1.0)" font-size="5.6" fill="#444444" font-weight="normal" text-anchor="end">PSO-CatBoost</text>
<line x1="522.28" y1="106.8" x2="522.28" y2="110" stroke="#333333" stroke-width="0.75"/>
<text class="tn" transform="translate(524.24,111.9) rotate(-90) scale(0.945,1.0)" font-size="5.6" fill="#444444" font-weight="normal" text-anchor="end">GWO-CatBoost</text>
<line x1="527.82" y1="106.8" x2="527.82" y2="110" stroke="#333333" stroke-width="0.75"/>
<text class="tn" transform="translate(529.78,111.9) rotate(-90) scale(0.945,1.0)" font-size="5.6" fill="#444444" font-weight="normal" text-anchor="end">GA-CatBoost</text>
<line x1="533.37" y1="106.8" x2="533.37" y2="110" stroke="#333333" stroke-width="0.75"/>
<text class="tn" transform="translate(535.33,111.9) rotate(-90) scale(0.945,1.0)" font-size="5.6" fill="#444444" font-weight="normal" text-anchor="end">DE-CatBoost</text>
<line x1="538.91" y1="106.8" x2="538.91" y2="110" stroke="#333333" stroke-width="0.75"/>
<text class="tn" transform="translate(540.87,111.9) rotate(-90) scale(0.945,1.0)" font-size="5.6" fill="#444444" font-weight="normal" text-anchor="end">TSO-CatBoost</text>
<line x1="544.45" y1="106.8" x2="544.45" y2="110" stroke="#333333" stroke-width="0.75"/>
<text class="tn" transform="translate(546.41,111.9) rotate(-90) scale(0.945,1.0)" font-size="5.6" fill="#444444" font-weight="normal" text-anchor="end">SOS-CatBoost</text>
<text class="tt" transform="translate(225.6,12.6) scale(1.07,1)" font-size="11.6" fill="#1A1A1A"><tspan font-size="10.4">(</tspan><tspan font-weight="bold">b</tspan><tspan font-size="10.4">)</tspan><tspan> </tspan><tspan font-style="italic">R</tspan><tspan font-size="6.6" dx="0.6" dy="-3.6">2</tspan></text>
<text transform="translate(196.9,65.2) rotate(-90)" font-size="9" fill="#1A1A1A" text-anchor="middle">R<tspan font-size="5.5" dy="-3.5">2</tspan></text>
<rect x="216.2" y="170.8" width="331.1" height="83.1" fill="#E5E5E5"/>
<line x1="216.2" y1="247.24" x2="547.3" y2="247.24" stroke="#FFFFFF" stroke-width="0.15"/>
<line x1="216.2" y1="233.31" x2="547.3" y2="233.31" stroke="#FFFFFF" stroke-width="0.15"/>
<line x1="216.2" y1="219.39" x2="547.3" y2="219.39" stroke="#FFFFFF" stroke-width="0.15"/>
<line x1="216.2" y1="205.46" x2="547.3" y2="205.46" stroke="#FFFFFF" stroke-width="0.15"/>
<line x1="216.2" y1="191.54" x2="547.3" y2="191.54" stroke="#FFFFFF" stroke-width="0.15"/>
<line x1="216.2" y1="177.61" x2="547.3" y2="177.61" stroke="#FFFFFF" stroke-width="0.15"/>
<line x1="216.2" y1="240.27" x2="547.3" y2="240.27" stroke="#FFFFFF" stroke-width="0.3"/>
<line x1="216.2" y1="226.35" x2="547.3" y2="226.35" stroke="#FFFFFF" stroke-width="0.3"/>
<line x1="216.2" y1="212.42" x2="547.3" y2="212.42" stroke="#FFFFFF" stroke-width="0.3"/>
<line x1="216.2" y1="198.5" x2="547.3" y2="198.5" stroke="#FFFFFF" stroke-width="0.3"/>
<line x1="216.2" y1="184.57" x2="547.3" y2="184.57" stroke="#FFFFFF" stroke-width="0.3"/>
<line x1="218.1" y1="170.8" x2="218.1" y2="253.9" stroke="#FFFFFF" stroke-width="0.25"/>
<line x1="223.65" y1="170.8" x2="223.65" y2="253.9" stroke="#FFFFFF" stroke-width="0.25"/>
<line x1="229.19" y1="170.8" x2="229.19" y2="253.9" stroke="#FFFFFF" stroke-width="0.25"/>
<line x1="234.74" y1="170.8" x2="234.74" y2="253.9" stroke="#FFFFFF" stroke-width="0.25"/>
<line x1="240.28" y1="170.8" x2="240.28" y2="253.9" stroke="#FFFFFF" stroke-width="0.25"/>
<line x1="245.83" y1="170.8" x2="245.83" y2="253.9" stroke="#FFFFFF" stroke-width="0.25"/>
<line x1="251.38" y1="170.8" x2="251.38" y2="253.9" stroke="#FFFFFF" stroke-width="0.25"/>
<line x1="256.92" y1="170.8" x2="256.92" y2="253.9" stroke="#FFFFFF" stroke-width="0.25"/>
<line x1="262.47" y1="170.8" x2="262.47" y2="253.9" stroke="#FFFFFF" stroke-width="0.25"/>
<line x1="268.01" y1="170.8" x2="268.01" y2="253.9" stroke="#FFFFFF" stroke-width="0.25"/>
<line x1="273.56" y1="170.8" x2="273.56" y2="253.9" stroke="#FFFFFF" stroke-width="0.25"/>
<line x1="279.11" y1="170.8" x2="279.11" y2="253.9" stroke="#FFFFFF" stroke-width="0.25"/>
<line x1="284.65" y1="170.8" x2="284.65" y2="253.9" stroke="#FFFFFF" stroke-width="0.25"/>
<line x1="290.2" y1="170.8" x2="290.2" y2="253.9" stroke="#FFFFFF" stroke-width="0.25"/>
<line x1="295.74" y1="170.8" x2="295.74" y2="253.9" stroke="#FFFFFF" stroke-width="0.25"/>
<line x1="301.29" y1="170.8" x2="301.29" y2="253.9" stroke="#FFFFFF" stroke-width="0.25"/>
<line x1="306.84" y1="170.8" x2="306.84" y2="253.9" stroke="#FFFFFF" stroke-width="0.25"/>
<line x1="312.38" y1="170.8" x2="312.38" y2="253.9" stroke="#FFFFFF" stroke-width="0.25"/>
<line x1="317.93" y1="170.8" x2="317.93" y2="253.9" stroke="#FFFFFF" stroke-width="0.25"/>
<line x1="323.47" y1="170.8" x2="323.47" y2="253.9" stroke="#FFFFFF" stroke-width="0.25"/>
<line x1="329.02" y1="170.8" x2="329.02" y2="253.9" stroke="#FFFFFF" stroke-width="0.25"/>
<line x1="334.57" y1="170.8" x2="334.57" y2="253.9" stroke="#FFFFFF" stroke-width="0.25"/>
<line x1="340.11" y1="170.8" x2="340.11" y2="253.9" stroke="#FFFFFF" stroke-width="0.25"/>
<line x1="345.66" y1="170.8" x2="345.66" y2="253.9" stroke="#FFFFFF" stroke-width="0.25"/>
<line x1="351.2" y1="170.8" x2="351.2" y2="253.9" stroke="#FFFFFF" stroke-width="0.25"/>
<line x1="356.75" y1="170.8" x2="356.75" y2="253.9" stroke="#FFFFFF" stroke-width="0.25"/>
<line x1="362.3" y1="170.8" x2="362.3" y2="253.9" stroke="#FFFFFF" stroke-width="0.25"/>
<line x1="367.84" y1="170.8" x2="367.84" y2="253.9" stroke="#FFFFFF" stroke-width="0.25"/>
<line x1="373.39" y1="170.8" x2="373.39" y2="253.9" stroke="#FFFFFF" stroke-width="0.25"/>
<line x1="378.93" y1="170.8" x2="378.93" y2="253.9" stroke="#FFFFFF" stroke-width="0.25"/>
<line x1="384.48" y1="170.8" x2="384.48" y2="253.9" stroke="#FFFFFF" stroke-width="0.25"/>
<line x1="390.03" y1="170.8" x2="390.03" y2="253.9" stroke="#FFFFFF" stroke-width="0.25"/>
<line x1="395.57" y1="170.8" x2="395.57" y2="253.9" stroke="#FFFFFF" stroke-width="0.25"/>
<line x1="401.12" y1="170.8" x2="401.12" y2="253.9" stroke="#FFFFFF" stroke-width="0.25"/>
<line x1="406.66" y1="170.8" x2="406.66" y2="253.9" stroke="#FFFFFF" stroke-width="0.25"/>
<line x1="412.21" y1="170.8" x2="412.21" y2="253.9" stroke="#FFFFFF" stroke-width="0.25"/>
<line x1="417.76" y1="170.8" x2="417.76" y2="253.9" stroke="#FFFFFF" stroke-width="0.25"/>
<line x1="423.3" y1="170.8" x2="423.3" y2="253.9" stroke="#FFFFFF" stroke-width="0.25"/>
<line x1="428.85" y1="170.8" x2="428.85" y2="253.9" stroke="#FFFFFF" stroke-width="0.25"/>
<line x1="434.39" y1="170.8" x2="434.39" y2="253.9" stroke="#FFFFFF" stroke-width="0.25"/>
<line x1="439.94" y1="170.8" x2="439.94" y2="253.9" stroke="#FFFFFF" stroke-width="0.25"/>
<line x1="445.49" y1="170.8" x2="445.49" y2="253.9" stroke="#FFFFFF" stroke-width="0.25"/>
<line x1="451.03" y1="170.8" x2="451.03" y2="253.9" stroke="#FFFFFF" stroke-width="0.25"/>
<line x1="456.58" y1="170.8" x2="456.58" y2="253.9" stroke="#FFFFFF" stroke-width="0.25"/>
<line x1="462.12" y1="170.8" x2="462.12" y2="253.9" stroke="#FFFFFF" stroke-width="0.25"/>
<line x1="467.67" y1="170.8" x2="467.67" y2="253.9" stroke="#FFFFFF" stroke-width="0.25"/>
<line x1="473.22" y1="170.8" x2="473.22" y2="253.9" stroke="#FFFFFF" stroke-width="0.25"/>
<line x1="478.76" y1="170.8" x2="478.76" y2="253.9" stroke="#FFFFFF" stroke-width="0.25"/>
<line x1="484.31" y1="170.8" x2="484.31" y2="253.9" stroke="#FFFFFF" stroke-width="0.25"/>
<line x1="489.85" y1="170.8" x2="489.85" y2="253.9" stroke="#FFFFFF" stroke-width="0.25"/>
<line x1="495.4" y1="170.8" x2="495.4" y2="253.9" stroke="#FFFFFF" stroke-width="0.25"/>
<line x1="500.95" y1="170.8" x2="500.95" y2="253.9" stroke="#FFFFFF" stroke-width="0.25"/>
<line x1="506.49" y1="170.8" x2="506.49" y2="253.9" stroke="#FFFFFF" stroke-width="0.25"/>
<line x1="512.04" y1="170.8" x2="512.04" y2="253.9" stroke="#FFFFFF" stroke-width="0.25"/>
<line x1="517.58" y1="170.8" x2="517.58" y2="253.9" stroke="#FFFFFF" stroke-width="0.25"/>
<line x1="523.13" y1="170.8" x2="523.13" y2="253.9" stroke="#FFFFFF" stroke-width="0.25"/>
<line x1="528.68" y1="170.8" x2="528.68" y2="253.9" stroke="#FFFFFF" stroke-width="0.25"/>
<line x1="534.22" y1="170.8" x2="534.22" y2="253.9" stroke="#FFFFFF" stroke-width="0.25"/>
<line x1="539.77" y1="170.8" x2="539.77" y2="253.9" stroke="#FFFFFF" stroke-width="0.25"/>
<line x1="545.31" y1="170.8" x2="545.31" y2="253.9" stroke="#FFFFFF" stroke-width="0.25"/>
<rect x="219.6" y="184.76" width="2.55" height="69.14" fill="#EBEBEB"/>
<rect x="225.15" y="185.45" width="2.55" height="68.45" fill="#EBEBEB"/>
<rect x="230.69" y="185.82" width="2.55" height="68.08" fill="#EBEBEB"/>
<rect x="236.24" y="186.12" width="2.55" height="67.78" fill="#EBEBEB"/>
<rect x="241.78" y="186.62" width="2.55" height="67.28" fill="#EBEBEB"/>
<rect x="247.33" y="187.12" width="2.55" height="66.78" fill="#EBEBEB"/>
<rect x="252.88" y="187.21" width="2.55" height="66.69" fill="#EBEBEB"/>
<rect x="258.42" y="187.24" width="2.55" height="66.66" fill="#EBEBEB"/>
<rect x="263.97" y="187.26" width="2.55" height="66.64" fill="#EBEBEB"/>
<rect x="269.51" y="187.29" width="2.55" height="66.61" fill="#EBEBEB"/>
<rect x="275.06" y="187.32" width="2.55" height="66.58" fill="#EBEBEB"/>
<rect x="280.61" y="187.36" width="2.55" height="66.54" fill="#EBEBEB"/>
<rect x="286.15" y="187.4" width="2.55" height="66.5" fill="#EBEBEB"/>
<rect x="291.7" y="187.44" width="2.55" height="66.46" fill="#EBEBEB"/>
<rect x="297.24" y="187.48" width="2.55" height="66.42" fill="#EBEBEB"/>
<rect x="302.79" y="187.52" width="2.55" height="66.38" fill="#EBEBEB"/>
<rect x="308.34" y="187.56" width="2.55" height="66.34" fill="#EBEBEB"/>
<rect x="313.88" y="187.6" width="2.55" height="66.3" fill="#EBEBEB"/>
<rect x="319.43" y="187.64" width="2.55" height="66.26" fill="#EBEBEB"/>
<rect x="324.97" y="187.68" width="2.55" height="66.22" fill="#EBEBEB"/>
<rect x="330.52" y="187.8" width="2.55" height="66.1" fill="#EBEBEB"/>
<rect x="336.07" y="187.92" width="2.55" height="65.98" fill="#EBEBEB"/>
<rect x="341.61" y="188.04" width="2.55" height="65.86" fill="#EBEBEB"/>
<rect x="347.16" y="188.16" width="2.55" height="65.74" fill="#EBEBEB"/>
<rect x="352.7" y="188.28" width="2.55" height="65.62" fill="#EBEBEB"/>
<rect x="358.25" y="188.4" width="2.55" height="65.5" fill="#EBEBEB"/>
<rect x="363.8" y="188.52" width="2.55" height="65.38" fill="#EBEBEB"/>
<rect x="369.34" y="188.6" width="2.55" height="65.3" fill="#EBEBEB"/>
<rect x="374.89" y="188.68" width="2.55" height="65.22" fill="#EBEBEB"/>
<rect x="380.43" y="188.76" width="2.55" height="65.14" fill="#EBEBEB"/>
<rect x="385.98" y="188.84" width="2.55" height="65.06" fill="#EBEBEB"/>
<rect x="391.53" y="188.91" width="2.55" height="64.99" fill="#EBEBEB"/>
<rect x="397.07" y="188.99" width="2.55" height="64.91" fill="#EBEBEB"/>
<rect x="402.62" y="189.07" width="2.55" height="64.83" fill="#EBEBEB"/>
<rect x="408.16" y="189.15" width="2.55" height="64.75" fill="#EBEBEB"/>
<rect x="413.71" y="189.23" width="2.55" height="64.67" fill="#EBEBEB"/>
<rect x="419.26" y="189.31" width="2.55" height="64.59" fill="#EBEBEB"/>
<rect x="424.8" y="189.39" width="2.55" height="64.51" fill="#EBEBEB"/>
<rect x="430.35" y="189.47" width="2.55" height="64.43" fill="#EBEBEB"/>
<rect x="435.89" y="189.55" width="2.55" height="64.35" fill="#EBEBEB"/>
<rect x="441.44" y="189.63" width="2.55" height="64.27" fill="#EBEBEB"/>
<rect x="446.99" y="189.67" width="2.55" height="64.23" fill="#EBEBEB"/>
<rect x="452.53" y="189.71" width="2.55" height="64.19" fill="#EBEBEB"/>
<rect x="458.08" y="189.75" width="2.55" height="64.15" fill="#EBEBEB"/>
<rect x="463.62" y="189.79" width="2.55" height="64.11" fill="#EBEBEB"/>
<rect x="469.17" y="189.83" width="2.55" height="64.07" fill="#EBEBEB"/>
<rect x="474.72" y="189.87" width="2.55" height="64.03" fill="#EBEBEB"/>
<rect x="480.26" y="189.91" width="2.55" height="63.99" fill="#EBEBEB"/>
<rect x="485.81" y="189.95" width="2.55" height="63.95" fill="#EBEBEB"/>
<rect x="491.35" y="189.99" width="2.55" height="63.91" fill="#EBEBEB"/>
<rect x="496.9" y="190.03" width="2.55" height="63.87" fill="#EBEBEB"/>
<rect x="502.45" y="190.07" width="2.55" height="63.83" fill="#EBEBEB"/>
<rect x="507.99" y="190.11" width="2.55" height="63.79" fill="#EBEBEB"/>
<rect x="513.54" y="190.15" width="2.55" height="63.75" fill="#EBEBEB"/>
<rect x="519.08" y="190.19" width="2.55" height="63.71" fill="#EBEBEB"/>
<rect x="524.63" y="190.24" width="2.55" height="63.66" fill="#EBEBEB"/>
<rect x="530.18" y="190.3" width="2.55" height="63.6" fill="#EBEBEB"/>
<rect x="535.72" y="190.36" width="2.55" height="63.54" fill="#EBEBEB"/>
<rect x="541.27" y="190.41" width="2.55" height="63.49" fill="#EBEBEB"/>
<rect x="216.6" y="181.93" width="3" height="71.97" fill="#9ECAE1"/>
<rect x="222.15" y="184.16" width="3" height="69.74" fill="#9ECAE1"/>
<rect x="227.69" y="184.85" width="3" height="69.05" fill="#9ECAE1"/>
<rect x="233.24" y="185.22" width="3" height="68.68" fill="#9ECAE1"/>
<rect x="238.78" y="185.52" width="3" height="68.38" fill="#9ECAE1"/>
<rect x="244.33" y="186.02" width="3" height="67.88" fill="#9ECAE1"/>
<rect x="249.88" y="186.52" width="3" height="67.38" fill="#9ECAE1"/>
<rect x="255.42" y="186.61" width="3" height="67.29" fill="#9ECAE1"/>
<rect x="260.97" y="186.64" width="3" height="67.26" fill="#9ECAE1"/>
<rect x="266.51" y="186.66" width="3" height="67.24" fill="#9ECAE1"/>
<rect x="272.06" y="186.69" width="3" height="67.21" fill="#9ECAE1"/>
<rect x="277.61" y="186.72" width="3" height="67.18" fill="#9ECAE1"/>
<rect x="283.15" y="186.76" width="3" height="67.14" fill="#9ECAE1"/>
<rect x="288.7" y="186.8" width="3" height="67.1" fill="#9ECAE1"/>
<rect x="294.24" y="186.84" width="3" height="67.06" fill="#9ECAE1"/>
<rect x="299.79" y="186.88" width="3" height="67.02" fill="#9ECAE1"/>
<rect x="305.34" y="186.92" width="3" height="66.98" fill="#9ECAE1"/>
<rect x="310.88" y="186.96" width="3" height="66.94" fill="#9ECAE1"/>
<rect x="316.43" y="187" width="3" height="66.9" fill="#9ECAE1"/>
<rect x="321.97" y="187.04" width="3" height="66.86" fill="#9ECAE1"/>
<rect x="327.52" y="187.08" width="3" height="66.82" fill="#9ECAE1"/>
<rect x="333.07" y="187.2" width="3" height="66.7" fill="#9ECAE1"/>
<rect x="338.61" y="187.32" width="3" height="66.58" fill="#9ECAE1"/>
<rect x="344.16" y="187.44" width="3" height="66.46" fill="#9ECAE1"/>
<rect x="349.7" y="187.56" width="3" height="66.34" fill="#9ECAE1"/>
<rect x="355.25" y="187.68" width="3" height="66.22" fill="#9ECAE1"/>
<rect x="360.8" y="187.8" width="3" height="66.1" fill="#9ECAE1"/>
<rect x="366.34" y="187.92" width="3" height="65.98" fill="#9ECAE1"/>
<rect x="371.89" y="188" width="3" height="65.9" fill="#9ECAE1"/>
<rect x="377.43" y="188.08" width="3" height="65.82" fill="#9ECAE1"/>
<rect x="382.98" y="188.16" width="3" height="65.74" fill="#9ECAE1"/>
<rect x="388.53" y="188.24" width="3" height="65.66" fill="#9ECAE1"/>
<rect x="394.07" y="188.31" width="3" height="65.59" fill="#9ECAE1"/>
<rect x="399.62" y="188.39" width="3" height="65.51" fill="#9ECAE1"/>
<rect x="405.16" y="188.47" width="3" height="65.43" fill="#9ECAE1"/>
<rect x="410.71" y="188.55" width="3" height="65.35" fill="#9ECAE1"/>
<rect x="416.26" y="188.63" width="3" height="65.27" fill="#9ECAE1"/>
<rect x="421.8" y="188.71" width="3" height="65.19" fill="#9ECAE1"/>
<rect x="427.35" y="188.79" width="3" height="65.11" fill="#9ECAE1"/>
<rect x="432.89" y="188.87" width="3" height="65.03" fill="#9ECAE1"/>
<rect x="438.44" y="188.95" width="3" height="64.95" fill="#9ECAE1"/>
<rect x="443.99" y="189.03" width="3" height="64.87" fill="#9ECAE1"/>
<rect x="449.53" y="189.07" width="3" height="64.83" fill="#9ECAE1"/>
<rect x="455.08" y="189.11" width="3" height="64.79" fill="#9ECAE1"/>
<rect x="460.62" y="189.15" width="3" height="64.75" fill="#9ECAE1"/>
<rect x="466.17" y="189.19" width="3" height="64.71" fill="#9ECAE1"/>
<rect x="471.72" y="189.23" width="3" height="64.67" fill="#9ECAE1"/>
<rect x="477.26" y="189.27" width="3" height="64.63" fill="#9ECAE1"/>
<rect x="482.81" y="189.31" width="3" height="64.59" fill="#9ECAE1"/>
<rect x="488.35" y="189.35" width="3" height="64.55" fill="#9ECAE1"/>
<rect x="493.9" y="189.39" width="3" height="64.51" fill="#9ECAE1"/>
<rect x="499.45" y="189.43" width="3" height="64.47" fill="#9ECAE1"/>
<rect x="504.99" y="189.47" width="3" height="64.43" fill="#9ECAE1"/>
<rect x="510.54" y="189.51" width="3" height="64.39" fill="#9ECAE1"/>
<rect x="516.08" y="189.55" width="3" height="64.35" fill="#9ECAE1"/>
<rect x="521.63" y="189.59" width="3" height="64.31" fill="#9ECAE1"/>
<rect x="527.18" y="189.64" width="3" height="64.26" fill="#9ECAE1"/>
<rect x="532.72" y="189.7" width="3" height="64.2" fill="#9ECAE1"/>
<rect x="538.27" y="189.76" width="3" height="64.14" fill="#9ECAE1"/>
<rect x="543.81" y="189.81" width="3" height="64.09" fill="#9ECAE1"/>
<line x1="213.4" y1="254.2" x2="215.6" y2="254.2" stroke="#333333" stroke-width="0.9"/>
<text class="tb" x="211" y="257" font-size="8" fill="#1E1E1E" font-weight="normal" text-anchor="end">0.00</text>
<line x1="213.4" y1="240.27" x2="215.6" y2="240.27" stroke="#333333" stroke-width="0.9"/>
<text class="tb" x="211" y="243.07" font-size="8" fill="#1E1E1E" font-weight="normal" text-anchor="end">0.05</text>
<line x1="213.4" y1="226.35" x2="215.6" y2="226.35" stroke="#333333" stroke-width="0.9"/>
<text class="tb" x="211" y="229.15" font-size="8" fill="#1E1E1E" font-weight="normal" text-anchor="end">0.10</text>
<line x1="213.4" y1="212.42" x2="215.6" y2="212.42" stroke="#333333" stroke-width="0.9"/>
<text class="tb" x="211" y="215.22" font-size="8" fill="#1E1E1E" font-weight="normal" text-anchor="end">0.15</text>
<line x1="213.4" y1="198.5" x2="215.6" y2="198.5" stroke="#333333" stroke-width="0.9"/>
<text class="tb" x="211" y="201.3" font-size="8" fill="#1E1E1E" font-weight="normal" text-anchor="end">0.20</text>
<line x1="213.4" y1="184.57" x2="215.6" y2="184.57" stroke="#333333" stroke-width="0.9"/>
<text class="tb" x="211" y="187.38" font-size="8" fill="#1E1E1E" font-weight="normal" text-anchor="end">0.25</text>
<line x1="213.4" y1="170.65" x2="215.6" y2="170.65" stroke="#333333" stroke-width="0.9"/>
<text class="tb" x="211" y="173.45" font-size="8" fill="#1E1E1E" font-weight="normal" text-anchor="end">0.30</text>
<line x1="218.1" y1="254.9" x2="218.1" y2="256.6" stroke="#333333" stroke-width="0.9"/>
<text class="tl" transform="translate(220.09,258) rotate(-90) scale(0.93,1.0)" font-size="5.7" fill="#2A2A2A" font-weight="normal" text-anchor="end">BO-ANN</text>
<line x1="223.65" y1="254.9" x2="223.65" y2="256.6" stroke="#333333" stroke-width="0.9"/>
<text class="tl" transform="translate(225.64,258) rotate(-90) scale(0.93,1.0)" font-size="5.7" fill="#2A2A2A" font-weight="normal" text-anchor="end">FPA-RF</text>
<line x1="229.19" y1="254.9" x2="229.19" y2="256.6" stroke="#333333" stroke-width="0.9"/>
<text class="tl" transform="translate(231.19,258) rotate(-90) scale(0.93,1.0)" font-size="5.7" fill="#2A2A2A" font-weight="normal" text-anchor="end">DE-RF</text>
<line x1="234.74" y1="254.9" x2="234.74" y2="256.6" stroke="#333333" stroke-width="0.9"/>
<text class="tl" transform="translate(236.73,258) rotate(-90) scale(0.93,1.0)" font-size="5.7" fill="#2A2A2A" font-weight="normal" text-anchor="end">SMA-ANN</text>
<line x1="240.28" y1="254.9" x2="240.28" y2="256.6" stroke="#333333" stroke-width="0.9"/>
<text class="tl" transform="translate(242.28,258) rotate(-90) scale(0.93,1.0)" font-size="5.7" fill="#2A2A2A" font-weight="normal" text-anchor="end">GA-ANN</text>
<line x1="245.83" y1="254.9" x2="245.83" y2="256.6" stroke="#333333" stroke-width="0.9"/>
<text class="tl" transform="translate(247.82,258) rotate(-90) scale(0.93,1.0)" font-size="5.7" fill="#2A2A2A" font-weight="normal" text-anchor="end">GWO-ANN</text>
<line x1="251.38" y1="254.9" x2="251.38" y2="256.6" stroke="#333333" stroke-width="0.9"/>
<text class="tl" transform="translate(253.37,258) rotate(-90) scale(0.93,1.0)" font-size="5.7" fill="#2A2A2A" font-weight="normal" text-anchor="end">SOS-ANN</text>
<line x1="256.92" y1="254.9" x2="256.92" y2="256.6" stroke="#333333" stroke-width="0.9"/>
<text class="tl" transform="translate(258.92,258) rotate(-90) scale(0.93,1.0)" font-size="5.7" fill="#2A2A2A" font-weight="normal" text-anchor="end">TSO-ANN</text>
<line x1="262.47" y1="254.9" x2="262.47" y2="256.6" stroke="#333333" stroke-width="0.9"/>
<text class="tl" transform="translate(264.46,258) rotate(-90) scale(0.93,1.0)" font-size="5.7" fill="#2A2A2A" font-weight="normal" text-anchor="end">FPA-ANN</text>
<line x1="268.01" y1="254.9" x2="268.01" y2="256.6" stroke="#333333" stroke-width="0.9"/>
<text class="tl" transform="translate(270.01,258) rotate(-90) scale(0.93,1.0)" font-size="5.7" fill="#2A2A2A" font-weight="normal" text-anchor="end">SOA-ANN</text>
<line x1="273.56" y1="254.9" x2="273.56" y2="256.6" stroke="#333333" stroke-width="0.9"/>
<text class="tl" transform="translate(275.56,258) rotate(-90) scale(0.93,1.0)" font-size="5.7" fill="#2A2A2A" font-weight="normal" text-anchor="end">GA-EN</text>
<line x1="279.11" y1="254.9" x2="279.11" y2="256.6" stroke="#333333" stroke-width="0.9"/>
<text class="tl" transform="translate(281.1,258) rotate(-90) scale(0.93,1.0)" font-size="5.7" fill="#2A2A2A" font-weight="normal" text-anchor="end">BO-EN</text>
<line x1="284.65" y1="254.9" x2="284.65" y2="256.6" stroke="#333333" stroke-width="0.9"/>
<text class="tl" transform="translate(286.65,258) rotate(-90) scale(0.93,1.0)" font-size="5.7" fill="#2A2A2A" font-weight="normal" text-anchor="end">SMA-EN</text>
<line x1="290.2" y1="254.9" x2="290.2" y2="256.6" stroke="#333333" stroke-width="0.9"/>
<text class="tl" transform="translate(292.19,258) rotate(-90) scale(0.93,1.0)" font-size="5.7" fill="#2A2A2A" font-weight="normal" text-anchor="end">SOA-EN</text>
<line x1="295.74" y1="254.9" x2="295.74" y2="256.6" stroke="#333333" stroke-width="0.9"/>
<text class="tl" transform="translate(297.74,258) rotate(-90) scale(0.93,1.0)" font-size="5.7" fill="#2A2A2A" font-weight="normal" text-anchor="end">TSO-EN</text>
<line x1="301.29" y1="254.9" x2="301.29" y2="256.6" stroke="#333333" stroke-width="0.9"/>
<text class="tl" transform="translate(303.28,258) rotate(-90) scale(0.93,1.0)" font-size="5.7" fill="#2A2A2A" font-weight="normal" text-anchor="end">FPA-EN</text>
<line x1="306.84" y1="254.9" x2="306.84" y2="256.6" stroke="#333333" stroke-width="0.9"/>
<text class="tl" transform="translate(308.83,258) rotate(-90) scale(0.93,1.0)" font-size="5.7" fill="#2A2A2A" font-weight="normal" text-anchor="end">PSO-EN</text>
<line x1="312.38" y1="254.9" x2="312.38" y2="256.6" stroke="#333333" stroke-width="0.9"/>
<text class="tl" transform="translate(314.38,258) rotate(-90) scale(0.93,1.0)" font-size="5.7" fill="#2A2A2A" font-weight="normal" text-anchor="end">DE-EN</text>
<line x1="317.93" y1="254.9" x2="317.93" y2="256.6" stroke="#333333" stroke-width="0.9"/>
<text class="tl" transform="translate(319.92,258) rotate(-90) scale(0.93,1.0)" font-size="5.7" fill="#2A2A2A" font-weight="normal" text-anchor="end">GWO-EN</text>
<line x1="323.47" y1="254.9" x2="323.47" y2="256.6" stroke="#333333" stroke-width="0.9"/>
<text class="tl" transform="translate(325.47,258) rotate(-90) scale(0.93,1.0)" font-size="5.7" fill="#2A2A2A" font-weight="normal" text-anchor="end">SOS-EN</text>
<line x1="329.02" y1="254.9" x2="329.02" y2="256.6" stroke="#333333" stroke-width="0.9"/>
<text class="tl" transform="translate(331.01,258) rotate(-90) scale(0.93,1.0)" font-size="5.7" fill="#2A2A2A" font-weight="normal" text-anchor="end">DE-ANN</text>
<line x1="334.57" y1="254.9" x2="334.57" y2="256.6" stroke="#333333" stroke-width="0.9"/>
<text class="tl" transform="translate(336.56,258) rotate(-90) scale(0.93,1.0)" font-size="5.7" fill="#2A2A2A" font-weight="normal" text-anchor="end">SOS-RF</text>
<line x1="340.11" y1="254.9" x2="340.11" y2="256.6" stroke="#333333" stroke-width="0.9"/>
<text class="tl" transform="translate(342.11,258) rotate(-90) scale(0.93,1.0)" font-size="5.7" fill="#2A2A2A" font-weight="normal" text-anchor="end">PSO-ANN</text>
<line x1="345.66" y1="254.9" x2="345.66" y2="256.6" stroke="#333333" stroke-width="0.9"/>
<text class="tl" transform="translate(347.65,258) rotate(-90) scale(0.93,1.0)" font-size="5.7" fill="#2A2A2A" font-weight="normal" text-anchor="end">SMA-RF</text>
<line x1="351.2" y1="254.9" x2="351.2" y2="256.6" stroke="#333333" stroke-width="0.9"/>
<text class="tl" transform="translate(353.2,258) rotate(-90) scale(0.93,1.0)" font-size="5.7" fill="#2A2A2A" font-weight="normal" text-anchor="end">BO-XGBoost</text>
<line x1="356.75" y1="254.9" x2="356.75" y2="256.6" stroke="#333333" stroke-width="0.9"/>
<text class="tl" transform="translate(358.75,258) rotate(-90) scale(0.93,1.0)" font-size="5.7" fill="#2A2A2A" font-weight="normal" text-anchor="end">GA-RF</text>
<line x1="362.3" y1="254.9" x2="362.3" y2="256.6" stroke="#333333" stroke-width="0.9"/>
<text class="tl" transform="translate(364.29,258) rotate(-90) scale(0.93,1.0)" font-size="5.7" fill="#2A2A2A" font-weight="normal" text-anchor="end">SOA-RF</text>
<line x1="367.84" y1="254.9" x2="367.84" y2="256.6" stroke="#333333" stroke-width="0.9"/>
<text class="tl" transform="translate(369.84,258) rotate(-90) scale(0.93,1.0)" font-size="5.7" fill="#2A2A2A" font-weight="normal" text-anchor="end">BO-RF</text>
<line x1="373.39" y1="254.9" x2="373.39" y2="256.6" stroke="#333333" stroke-width="0.9"/>
<text class="tl" transform="translate(375.38,258) rotate(-90) scale(0.93,1.0)" font-size="5.7" fill="#2A2A2A" font-weight="normal" text-anchor="end">TSO-RF</text>
<line x1="378.93" y1="254.9" x2="378.93" y2="256.6" stroke="#333333" stroke-width="0.9"/>
<text class="tl" transform="translate(380.93,258) rotate(-90) scale(0.93,1.0)" font-size="5.7" fill="#2A2A2A" font-weight="normal" text-anchor="end">GWO-RF</text>
<line x1="384.48" y1="254.9" x2="384.48" y2="256.6" stroke="#333333" stroke-width="0.9"/>
<text class="tl" transform="translate(386.48,258) rotate(-90) scale(0.93,1.0)" font-size="5.7" fill="#2A2A2A" font-weight="normal" text-anchor="end">PSO-RF</text>
<line x1="390.03" y1="254.9" x2="390.03" y2="256.6" stroke="#333333" stroke-width="0.9"/>
<text class="tl" transform="translate(392.02,258) rotate(-90) scale(0.93,1.0)" font-size="5.7" fill="#2A2A2A" font-weight="normal" text-anchor="end">SMA-LightGBM</text>
<line x1="395.57" y1="254.9" x2="395.57" y2="256.6" stroke="#333333" stroke-width="0.9"/>
<text class="tl" transform="translate(397.57,258) rotate(-90) scale(0.93,1.0)" font-size="5.7" fill="#2A2A2A" font-weight="normal" text-anchor="end">GA-LightGBM</text>
<line x1="401.12" y1="254.9" x2="401.12" y2="256.6" stroke="#333333" stroke-width="0.9"/>
<text class="tl" transform="translate(403.11,258) rotate(-90) scale(0.93,1.0)" font-size="5.7" fill="#2A2A2A" font-weight="normal" text-anchor="end">BO-LightGBM</text>
<line x1="406.66" y1="254.9" x2="406.66" y2="256.6" stroke="#333333" stroke-width="0.9"/>
<text class="tl" transform="translate(408.66,258) rotate(-90) scale(0.93,1.0)" font-size="5.7" fill="#2A2A2A" font-weight="normal" text-anchor="end">SOA-LightGBM</text>
<line x1="412.21" y1="254.9" x2="412.21" y2="256.6" stroke="#333333" stroke-width="0.9"/>
<text class="tl" transform="translate(414.21,258) rotate(-90) scale(0.93,1.0)" font-size="5.7" fill="#2A2A2A" font-weight="normal" text-anchor="end">FPA-LightGBM</text>
<line x1="417.76" y1="254.9" x2="417.76" y2="256.6" stroke="#333333" stroke-width="0.9"/>
<text class="tl" transform="translate(419.75,258) rotate(-90) scale(0.93,1.0)" font-size="5.7" fill="#2A2A2A" font-weight="normal" text-anchor="end">PSO-LightGBM</text>
<line x1="423.3" y1="254.9" x2="423.3" y2="256.6" stroke="#333333" stroke-width="0.9"/>
<text class="tl" transform="translate(425.3,258) rotate(-90) scale(0.93,1.0)" font-size="5.7" fill="#2A2A2A" font-weight="normal" text-anchor="end">BO-CatBoost</text>
<line x1="428.85" y1="254.9" x2="428.85" y2="256.6" stroke="#333333" stroke-width="0.9"/>
<text class="tl" transform="translate(430.84,258) rotate(-90) scale(0.93,1.0)" font-size="5.7" fill="#2A2A2A" font-weight="normal" text-anchor="end">SOS-LightGBM</text>
<line x1="434.39" y1="254.9" x2="434.39" y2="256.6" stroke="#333333" stroke-width="0.9"/>
<text class="tl" transform="translate(436.39,258) rotate(-90) scale(0.93,1.0)" font-size="5.7" fill="#2A2A2A" font-weight="normal" text-anchor="end">GWO-LightGBM</text>
<line x1="439.94" y1="254.9" x2="439.94" y2="256.6" stroke="#333333" stroke-width="0.9"/>
<text class="tl" transform="translate(441.94,258) rotate(-90) scale(0.93,1.0)" font-size="5.7" fill="#2A2A2A" font-weight="normal" text-anchor="end">TSO-LightGBM</text>
<line x1="445.49" y1="254.9" x2="445.49" y2="256.6" stroke="#333333" stroke-width="0.9"/>
<text class="tl" transform="translate(447.48,258) rotate(-90) scale(0.93,1.0)" font-size="5.7" fill="#2A2A2A" font-weight="normal" text-anchor="end">SOA-XGBoost</text>
<line x1="451.03" y1="254.9" x2="451.03" y2="256.6" stroke="#333333" stroke-width="0.9"/>
<text class="tl" transform="translate(453.03,258) rotate(-90) scale(0.93,1.0)" font-size="5.7" fill="#2A2A2A" font-weight="normal" text-anchor="end">GA-XGBoost</text>
<line x1="456.58" y1="254.9" x2="456.58" y2="256.6" stroke="#333333" stroke-width="0.9"/>
<text class="tl" transform="translate(458.57,258) rotate(-90) scale(0.93,1.0)" font-size="5.7" fill="#2A2A2A" font-weight="normal" text-anchor="end">SMA-CatBoost</text>
<line x1="462.12" y1="254.9" x2="462.12" y2="256.6" stroke="#333333" stroke-width="0.9"/>
<text class="tl" transform="translate(464.12,258) rotate(-90) scale(0.93,1.0)" font-size="5.7" fill="#2A2A2A" font-weight="normal" text-anchor="end">SOA-CatBoost</text>
<line x1="467.67" y1="254.9" x2="467.67" y2="256.6" stroke="#333333" stroke-width="0.9"/>
<text class="tl" transform="translate(469.67,258) rotate(-90) scale(0.93,1.0)" font-size="5.7" fill="#2A2A2A" font-weight="normal" text-anchor="end">DE-LightGBM</text>
<line x1="473.22" y1="254.9" x2="473.22" y2="256.6" stroke="#333333" stroke-width="0.9"/>
<text class="tl" transform="translate(475.21,258) rotate(-90) scale(0.93,1.0)" font-size="5.7" fill="#2A2A2A" font-weight="normal" text-anchor="end">PSO-CatBoost</text>
<line x1="478.76" y1="254.9" x2="478.76" y2="256.6" stroke="#333333" stroke-width="0.9"/>
<text class="tl" transform="translate(480.76,258) rotate(-90) scale(0.93,1.0)" font-size="5.7" fill="#2A2A2A" font-weight="normal" text-anchor="end">DE-XGBoost</text>
<line x1="484.31" y1="254.9" x2="484.31" y2="256.6" stroke="#333333" stroke-width="0.9"/>
<text class="tl" transform="translate(486.3,258) rotate(-90) scale(0.93,1.0)" font-size="5.7" fill="#2A2A2A" font-weight="normal" text-anchor="end">TSO-CatBoost</text>
<line x1="489.85" y1="254.9" x2="489.85" y2="256.6" stroke="#333333" stroke-width="0.9"/>
<text class="tl" transform="translate(491.85,258) rotate(-90) scale(0.93,1.0)" font-size="5.7" fill="#2A2A2A" font-weight="normal" text-anchor="end">GA-CatBoost</text>
<line x1="495.4" y1="254.9" x2="495.4" y2="256.6" stroke="#333333" stroke-width="0.9"/>
<text class="tl" transform="translate(497.39,258) rotate(-90) scale(0.93,1.0)" font-size="5.7" fill="#2A2A2A" font-weight="normal" text-anchor="end">DE-CatBoost</text>
<line x1="500.95" y1="254.9" x2="500.95" y2="256.6" stroke="#333333" stroke-width="0.9"/>
<text class="tl" transform="translate(502.94,258) rotate(-90) scale(0.93,1.0)" font-size="5.7" fill="#2A2A2A" font-weight="normal" text-anchor="end">SOS-CatBoost</text>
<line x1="506.49" y1="254.9" x2="506.49" y2="256.6" stroke="#333333" stroke-width="0.9"/>
<text class="tl" transform="translate(508.49,258) rotate(-90) scale(0.93,1.0)" font-size="5.7" fill="#2A2A2A" font-weight="normal" text-anchor="end">GWO-CatBoost</text>
<line x1="512.04" y1="254.9" x2="512.04" y2="256.6" stroke="#333333" stroke-width="0.9"/>
<text class="tl" transform="translate(514.03,258) rotate(-90) scale(0.93,1.0)" font-size="5.7" fill="#2A2A2A" font-weight="normal" text-anchor="end">PSO-XGBoost</text>
<line x1="517.58" y1="254.9" x2="517.58" y2="256.6" stroke="#333333" stroke-width="0.9"/>
<text class="tl" transform="translate(519.58,258) rotate(-90) scale(0.93,1.0)" font-size="5.7" fill="#2A2A2A" font-weight="normal" text-anchor="end">SMA-XGBoost</text>
<line x1="523.13" y1="254.9" x2="523.13" y2="256.6" stroke="#333333" stroke-width="0.9"/>
<text class="tl" transform="translate(525.12,258) rotate(-90) scale(0.93,1.0)" font-size="5.7" fill="#2A2A2A" font-weight="normal" text-anchor="end">FPA-CatBoost</text>
<line x1="528.68" y1="254.9" x2="528.68" y2="256.6" stroke="#333333" stroke-width="0.9"/>
<text class="tl" transform="translate(530.67,258) rotate(-90) scale(0.93,1.0)" font-size="5.7" fill="#2A2A2A" font-weight="normal" text-anchor="end">TSO-XGBoost</text>
<line x1="534.22" y1="254.9" x2="534.22" y2="256.6" stroke="#333333" stroke-width="0.9"/>
<text class="tl" transform="translate(536.22,258) rotate(-90) scale(0.93,1.0)" font-size="5.7" fill="#2A2A2A" font-weight="normal" text-anchor="end">SOS-XGBoost</text>
<line x1="539.77" y1="254.9" x2="539.77" y2="256.6" stroke="#333333" stroke-width="0.9"/>
<text class="tl" transform="translate(541.76,258) rotate(-90) scale(0.93,1.0)" font-size="5.7" fill="#2A2A2A" font-weight="normal" text-anchor="end">FPA-XGBoost</text>
<line x1="545.31" y1="254.9" x2="545.31" y2="256.6" stroke="#333333" stroke-width="0.9"/>
<text class="tl" transform="translate(547.31,258) rotate(-90) scale(0.93,1.0)" font-size="5.7" fill="#2A2A2A" font-weight="normal" text-anchor="end">GWO-XGBoost</text>
<text class="tt" transform="translate(229.4,161) scale(1.06,1)" font-size="11.6" fill="#1A1A1A"><tspan font-size="10.4">(</tspan><tspan font-weight="bold">c</tspan><tspan font-size="10.4">)</tspan><tspan> MAE</tspan></text>
<text transform="translate(195.3,212.8) rotate(-90) scale(0.93,1)" font-size="8.6" fill="#1A1A1A" text-anchor="middle">MAE (°C)</text>
<rect x="214.4" y="312.1" width="331.6" height="82.1" fill="#E5E5E5"/>
<line x1="214.4" y1="389.09" x2="546" y2="389.09" stroke="#FFFFFF" stroke-width="0.15"/>
<line x1="214.4" y1="378.08" x2="546" y2="378.08" stroke="#FFFFFF" stroke-width="0.15"/>
<line x1="214.4" y1="367.06" x2="546" y2="367.06" stroke="#FFFFFF" stroke-width="0.15"/>
<line x1="214.4" y1="356.05" x2="546" y2="356.05" stroke="#FFFFFF" stroke-width="0.15"/>
<line x1="214.4" y1="345.03" x2="546" y2="345.03" stroke="#FFFFFF" stroke-width="0.15"/>
<line x1="214.4" y1="334.02" x2="546" y2="334.02" stroke="#FFFFFF" stroke-width="0.15"/>
<line x1="214.4" y1="323" x2="546" y2="323" stroke="#FFFFFF" stroke-width="0.15"/>
<line x1="214.4" y1="383.59" x2="546" y2="383.59" stroke="#FFFFFF" stroke-width="0.3"/>
<line x1="214.4" y1="372.57" x2="546" y2="372.57" stroke="#FFFFFF" stroke-width="0.3"/>
<line x1="214.4" y1="361.56" x2="546" y2="361.56" stroke="#FFFFFF" stroke-width="0.3"/>
<line x1="214.4" y1="350.54" x2="546" y2="350.54" stroke="#FFFFFF" stroke-width="0.3"/>
<line x1="214.4" y1="339.53" x2="546" y2="339.53" stroke="#FFFFFF" stroke-width="0.3"/>
<line x1="214.4" y1="328.51" x2="546" y2="328.51" stroke="#FFFFFF" stroke-width="0.3"/>
<line x1="214.4" y1="317.5" x2="546" y2="317.5" stroke="#FFFFFF" stroke-width="0.3"/>
<line x1="216.6" y1="312.1" x2="216.6" y2="394.2" stroke="#FFFFFF" stroke-width="0.25"/>
<line x1="222.14" y1="312.1" x2="222.14" y2="394.2" stroke="#FFFFFF" stroke-width="0.25"/>
<line x1="227.69" y1="312.1" x2="227.69" y2="394.2" stroke="#FFFFFF" stroke-width="0.25"/>
<line x1="233.23" y1="312.1" x2="233.23" y2="394.2" stroke="#FFFFFF" stroke-width="0.25"/>
<line x1="238.78" y1="312.1" x2="238.78" y2="394.2" stroke="#FFFFFF" stroke-width="0.25"/>
<line x1="244.32" y1="312.1" x2="244.32" y2="394.2" stroke="#FFFFFF" stroke-width="0.25"/>
<line x1="249.86" y1="312.1" x2="249.86" y2="394.2" stroke="#FFFFFF" stroke-width="0.25"/>
<line x1="255.41" y1="312.1" x2="255.41" y2="394.2" stroke="#FFFFFF" stroke-width="0.25"/>
<line x1="260.95" y1="312.1" x2="260.95" y2="394.2" stroke="#FFFFFF" stroke-width="0.25"/>
<line x1="266.5" y1="312.1" x2="266.5" y2="394.2" stroke="#FFFFFF" stroke-width="0.25"/>
<line x1="272.04" y1="312.1" x2="272.04" y2="394.2" stroke="#FFFFFF" stroke-width="0.25"/>
<line x1="277.58" y1="312.1" x2="277.58" y2="394.2" stroke="#FFFFFF" stroke-width="0.25"/>
<line x1="283.13" y1="312.1" x2="283.13" y2="394.2" stroke="#FFFFFF" stroke-width="0.25"/>
<line x1="288.67" y1="312.1" x2="288.67" y2="394.2" stroke="#FFFFFF" stroke-width="0.25"/>
<line x1="294.22" y1="312.1" x2="294.22" y2="394.2" stroke="#FFFFFF" stroke-width="0.25"/>
<line x1="299.76" y1="312.1" x2="299.76" y2="394.2" stroke="#FFFFFF" stroke-width="0.25"/>
<line x1="305.3" y1="312.1" x2="305.3" y2="394.2" stroke="#FFFFFF" stroke-width="0.25"/>
<line x1="310.85" y1="312.1" x2="310.85" y2="394.2" stroke="#FFFFFF" stroke-width="0.25"/>
<line x1="316.39" y1="312.1" x2="316.39" y2="394.2" stroke="#FFFFFF" stroke-width="0.25"/>
<line x1="321.94" y1="312.1" x2="321.94" y2="394.2" stroke="#FFFFFF" stroke-width="0.25"/>
<line x1="327.48" y1="312.1" x2="327.48" y2="394.2" stroke="#FFFFFF" stroke-width="0.25"/>
<line x1="333.02" y1="312.1" x2="333.02" y2="394.2" stroke="#FFFFFF" stroke-width="0.25"/>
<line x1="338.57" y1="312.1" x2="338.57" y2="394.2" stroke="#FFFFFF" stroke-width="0.25"/>
<line x1="344.11" y1="312.1" x2="344.11" y2="394.2" stroke="#FFFFFF" stroke-width="0.25"/>
<line x1="349.66" y1="312.1" x2="349.66" y2="394.2" stroke="#FFFFFF" stroke-width="0.25"/>
<line x1="355.2" y1="312.1" x2="355.2" y2="394.2" stroke="#FFFFFF" stroke-width="0.25"/>
<line x1="360.74" y1="312.1" x2="360.74" y2="394.2" stroke="#FFFFFF" stroke-width="0.25"/>
<line x1="366.29" y1="312.1" x2="366.29" y2="394.2" stroke="#FFFFFF" stroke-width="0.25"/>
<line x1="371.83" y1="312.1" x2="371.83" y2="394.2" stroke="#FFFFFF" stroke-width="0.25"/>
<line x1="377.38" y1="312.1" x2="377.38" y2="394.2" stroke="#FFFFFF" stroke-width="0.25"/>
<line x1="382.92" y1="312.1" x2="382.92" y2="394.2" stroke="#FFFFFF" stroke-width="0.25"/>
<line x1="388.46" y1="312.1" x2="388.46" y2="394.2" stroke="#FFFFFF" stroke-width="0.25"/>
<line x1="394.01" y1="312.1" x2="394.01" y2="394.2" stroke="#FFFFFF" stroke-width="0.25"/>
<line x1="399.55" y1="312.1" x2="399.55" y2="394.2" stroke="#FFFFFF" stroke-width="0.25"/>
<line x1="405.1" y1="312.1" x2="405.1" y2="394.2" stroke="#FFFFFF" stroke-width="0.25"/>
<line x1="410.64" y1="312.1" x2="410.64" y2="394.2" stroke="#FFFFFF" stroke-width="0.25"/>
<line x1="416.18" y1="312.1" x2="416.18" y2="394.2" stroke="#FFFFFF" stroke-width="0.25"/>
<line x1="421.73" y1="312.1" x2="421.73" y2="394.2" stroke="#FFFFFF" stroke-width="0.25"/>
<line x1="427.27" y1="312.1" x2="427.27" y2="394.2" stroke="#FFFFFF" stroke-width="0.25"/>
<line x1="432.82" y1="312.1" x2="432.82" y2="394.2" stroke="#FFFFFF" stroke-width="0.25"/>
<line x1="438.36" y1="312.1" x2="438.36" y2="394.2" stroke="#FFFFFF" stroke-width="0.25"/>
<line x1="443.9" y1="312.1" x2="443.9" y2="394.2" stroke="#FFFFFF" stroke-width="0.25"/>
<line x1="449.45" y1="312.1" x2="449.45" y2="394.2" stroke="#FFFFFF" stroke-width="0.25"/>
<line x1="454.99" y1="312.1" x2="454.99" y2="394.2" stroke="#FFFFFF" stroke-width="0.25"/>
<line x1="460.54" y1="312.1" x2="460.54" y2="394.2" stroke="#FFFFFF" stroke-width="0.25"/>
<line x1="466.08" y1="312.1" x2="466.08" y2="394.2" stroke="#FFFFFF" stroke-width="0.25"/>
<line x1="471.62" y1="312.1" x2="471.62" y2="394.2" stroke="#FFFFFF" stroke-width="0.25"/>
<line x1="477.17" y1="312.1" x2="477.17" y2="394.2" stroke="#FFFFFF" stroke-width="0.25"/>
<line x1="482.71" y1="312.1" x2="482.71" y2="394.2" stroke="#FFFFFF" stroke-width="0.25"/>
<line x1="488.26" y1="312.1" x2="488.26" y2="394.2" stroke="#FFFFFF" stroke-width="0.25"/>
<line x1="493.8" y1="312.1" x2="493.8" y2="394.2" stroke="#FFFFFF" stroke-width="0.25"/>
<line x1="499.34" y1="312.1" x2="499.34" y2="394.2" stroke="#FFFFFF" stroke-width="0.25"/>
<line x1="504.89" y1="312.1" x2="504.89" y2="394.2" stroke="#FFFFFF" stroke-width="0.25"/>
<line x1="510.43" y1="312.1" x2="510.43" y2="394.2" stroke="#FFFFFF" stroke-width="0.25"/>
<line x1="515.98" y1="312.1" x2="515.98" y2="394.2" stroke="#FFFFFF" stroke-width="0.25"/>
<line x1="521.52" y1="312.1" x2="521.52" y2="394.2" stroke="#FFFFFF" stroke-width="0.25"/>
<line x1="527.06" y1="312.1" x2="527.06" y2="394.2" stroke="#FFFFFF" stroke-width="0.25"/>
<line x1="532.61" y1="312.1" x2="532.61" y2="394.2" stroke="#FFFFFF" stroke-width="0.25"/>
<line x1="538.15" y1="312.1" x2="538.15" y2="394.2" stroke="#FFFFFF" stroke-width="0.25"/>
<line x1="543.7" y1="312.1" x2="543.7" y2="394.2" stroke="#FFFFFF" stroke-width="0.25"/>
<rect x="218.1" y="326.91" width="2.54" height="67.29" fill="#ECEEEE"/>
<rect x="223.64" y="327.13" width="2.54" height="67.07" fill="#ECEEEE"/>
<rect x="229.19" y="327.39" width="2.54" height="66.81" fill="#ECEEEE"/>
<rect x="234.73" y="327.61" width="2.54" height="66.59" fill="#ECEEEE"/>
<rect x="240.28" y="327.72" width="2.54" height="66.48" fill="#ECEEEE"/>
<rect x="245.82" y="328.12" width="2.54" height="66.08" fill="#ECEEEE"/>
<rect x="251.36" y="328.29" width="2.54" height="65.91" fill="#ECEEEE"/>
<rect x="256.91" y="328.45" width="2.54" height="65.75" fill="#ECEEEE"/>
<rect x="262.45" y="328.56" width="2.54" height="65.64" fill="#ECEEEE"/>
<rect x="268" y="328.67" width="2.54" height="65.53" fill="#ECEEEE"/>
<rect x="273.54" y="328.71" width="2.54" height="65.49" fill="#ECEEEE"/>
<rect x="279.08" y="328.75" width="2.54" height="65.45" fill="#ECEEEE"/>
<rect x="284.63" y="328.78" width="2.54" height="65.42" fill="#ECEEEE"/>
<rect x="290.17" y="328.83" width="2.54" height="65.37" fill="#ECEEEE"/>
<rect x="295.72" y="328.89" width="2.54" height="65.31" fill="#ECEEEE"/>
<rect x="301.26" y="328.94" width="2.54" height="65.26" fill="#ECEEEE"/>
<rect x="306.8" y="329" width="2.54" height="65.2" fill="#ECEEEE"/>
<rect x="312.35" y="329.04" width="2.54" height="65.16" fill="#ECEEEE"/>
<rect x="317.89" y="329.07" width="2.54" height="65.13" fill="#ECEEEE"/>
<rect x="323.44" y="329.11" width="2.54" height="65.09" fill="#ECEEEE"/>
<rect x="328.98" y="329.2" width="2.54" height="65" fill="#ECEEEE"/>
<rect x="334.52" y="329.3" width="2.54" height="64.9" fill="#ECEEEE"/>
<rect x="340.07" y="329.39" width="2.54" height="64.81" fill="#ECEEEE"/>
<rect x="345.61" y="329.49" width="2.54" height="64.71" fill="#ECEEEE"/>
<rect x="351.16" y="329.58" width="2.54" height="64.62" fill="#ECEEEE"/>
<rect x="356.7" y="329.68" width="2.54" height="64.52" fill="#ECEEEE"/>
<rect x="362.24" y="329.77" width="2.54" height="64.43" fill="#ECEEEE"/>
<rect x="367.79" y="329.79" width="2.54" height="64.41" fill="#ECEEEE"/>
<rect x="373.33" y="329.81" width="2.54" height="64.39" fill="#ECEEEE"/>
<rect x="378.88" y="329.83" width="2.54" height="64.37" fill="#ECEEEE"/>
<rect x="384.42" y="329.85" width="2.54" height="64.35" fill="#ECEEEE"/>
<rect x="389.96" y="329.87" width="2.54" height="64.33" fill="#ECEEEE"/>
<rect x="395.51" y="329.89" width="2.54" height="64.31" fill="#ECEEEE"/>
<rect x="401.05" y="329.9" width="2.54" height="64.3" fill="#ECEEEE"/>
<rect x="406.6" y="329.92" width="2.54" height="64.28" fill="#ECEEEE"/>
<rect x="412.14" y="329.94" width="2.54" height="64.26" fill="#ECEEEE"/>
<rect x="417.68" y="329.96" width="2.54" height="64.24" fill="#ECEEEE"/>
<rect x="423.23" y="329.98" width="2.54" height="64.22" fill="#ECEEEE"/>
<rect x="428.77" y="330" width="2.54" height="64.2" fill="#ECEEEE"/>
<rect x="434.32" y="330.02" width="2.54" height="64.18" fill="#ECEEEE"/>
<rect x="439.86" y="330.04" width="2.54" height="64.16" fill="#ECEEEE"/>
<rect x="445.4" y="330.06" width="2.54" height="64.14" fill="#ECEEEE"/>
<rect x="450.95" y="330.07" width="2.54" height="64.13" fill="#ECEEEE"/>
<rect x="456.49" y="330.09" width="2.54" height="64.11" fill="#ECEEEE"/>
<rect x="462.04" y="330.11" width="2.54" height="64.09" fill="#ECEEEE"/>
<rect x="467.58" y="330.13" width="2.54" height="64.07" fill="#ECEEEE"/>
<rect x="473.12" y="330.14" width="2.54" height="64.06" fill="#ECEEEE"/>
<rect x="478.67" y="330.16" width="2.54" height="64.04" fill="#ECEEEE"/>
<rect x="484.21" y="330.18" width="2.54" height="64.02" fill="#ECEEEE"/>
<rect x="489.76" y="330.19" width="2.54" height="64.01" fill="#ECEEEE"/>
<rect x="495.3" y="330.21" width="2.54" height="63.99" fill="#ECEEEE"/>
<rect x="500.84" y="330.23" width="2.54" height="63.97" fill="#ECEEEE"/>
<rect x="506.39" y="330.24" width="2.54" height="63.96" fill="#ECEEEE"/>
<rect x="511.93" y="330.26" width="2.54" height="63.94" fill="#ECEEEE"/>
<rect x="517.48" y="330.28" width="2.54" height="63.92" fill="#ECEEEE"/>
<rect x="523.02" y="330.29" width="2.54" height="63.91" fill="#ECEEEE"/>
<rect x="528.56" y="330.3" width="2.54" height="63.9" fill="#ECEEEE"/>
<rect x="534.11" y="330.31" width="2.54" height="63.89" fill="#ECEEEE"/>
<rect x="539.65" y="330.32" width="2.54" height="63.88" fill="#ECEEEE"/>
<rect x="215.1" y="323.29" width="3" height="70.91" fill="#E88D8D"/>
<rect x="220.64" y="326.31" width="3" height="67.89" fill="#E88D8D"/>
<rect x="226.19" y="326.53" width="3" height="67.67" fill="#E88D8D"/>
<rect x="231.73" y="326.79" width="3" height="67.41" fill="#E88D8D"/>
<rect x="237.28" y="327.01" width="3" height="67.19" fill="#E88D8D"/>
<rect x="242.82" y="327.12" width="3" height="67.08" fill="#E88D8D"/>
<rect x="248.36" y="327.52" width="3" height="66.68" fill="#E88D8D"/>
<rect x="253.91" y="327.69" width="3" height="66.51" fill="#E88D8D"/>
<rect x="259.45" y="327.85" width="3" height="66.35" fill="#E88D8D"/>
<rect x="265" y="327.96" width="3" height="66.24" fill="#E88D8D"/>
<rect x="270.54" y="328.07" width="3" height="66.13" fill="#E88D8D"/>
<rect x="276.08" y="328.11" width="3" height="66.09" fill="#E88D8D"/>
<rect x="281.63" y="328.15" width="3" height="66.05" fill="#E88D8D"/>
<rect x="287.17" y="328.18" width="3" height="66.02" fill="#E88D8D"/>
<rect x="292.72" y="328.23" width="3" height="65.97" fill="#E88D8D"/>
<rect x="298.26" y="328.29" width="3" height="65.91" fill="#E88D8D"/>
<rect x="303.8" y="328.34" width="3" height="65.86" fill="#E88D8D"/>
<rect x="309.35" y="328.4" width="3" height="65.8" fill="#E88D8D"/>
<rect x="314.89" y="328.44" width="3" height="65.76" fill="#E88D8D"/>
<rect x="320.44" y="328.47" width="3" height="65.73" fill="#E88D8D"/>
<rect x="325.98" y="328.51" width="3" height="65.69" fill="#E88D8D"/>
<rect x="331.52" y="328.6" width="3" height="65.6" fill="#E88D8D"/>
<rect x="337.07" y="328.7" width="3" height="65.5" fill="#E88D8D"/>
<rect x="342.61" y="328.79" width="3" height="65.41" fill="#E88D8D"/>
<rect x="348.16" y="328.89" width="3" height="65.31" fill="#E88D8D"/>
<rect x="353.7" y="328.98" width="3" height="65.22" fill="#E88D8D"/>
<rect x="359.24" y="329.08" width="3" height="65.12" fill="#E88D8D"/>
<rect x="364.79" y="329.17" width="3" height="65.03" fill="#E88D8D"/>
<rect x="370.33" y="329.19" width="3" height="65.01" fill="#E88D8D"/>
<rect x="375.88" y="329.21" width="3" height="64.99" fill="#E88D8D"/>
<rect x="381.42" y="329.23" width="3" height="64.97" fill="#E88D8D"/>
<rect x="386.96" y="329.25" width="3" height="64.95" fill="#E88D8D"/>
<rect x="392.51" y="329.27" width="3" height="64.93" fill="#E88D8D"/>
<rect x="398.05" y="329.29" width="3" height="64.91" fill="#E88D8D"/>
<rect x="403.6" y="329.3" width="3" height="64.9" fill="#E88D8D"/>
<rect x="409.14" y="329.32" width="3" height="64.88" fill="#E88D8D"/>
<rect x="414.68" y="329.34" width="3" height="64.86" fill="#E88D8D"/>
<rect x="420.23" y="329.36" width="3" height="64.84" fill="#E88D8D"/>
<rect x="425.77" y="329.38" width="3" height="64.82" fill="#E88D8D"/>
<rect x="431.32" y="329.4" width="3" height="64.8" fill="#E88D8D"/>
<rect x="436.86" y="329.42" width="3" height="64.78" fill="#E88D8D"/>
<rect x="442.4" y="329.44" width="3" height="64.76" fill="#E88D8D"/>
<rect x="447.95" y="329.46" width="3" height="64.74" fill="#E88D8D"/>
<rect x="453.49" y="329.47" width="3" height="64.73" fill="#E88D8D"/>
<rect x="459.04" y="329.49" width="3" height="64.71" fill="#E88D8D"/>
<rect x="464.58" y="329.51" width="3" height="64.69" fill="#E88D8D"/>
<rect x="470.12" y="329.53" width="3" height="64.67" fill="#E88D8D"/>
<rect x="475.67" y="329.54" width="3" height="64.66" fill="#E88D8D"/>
<rect x="481.21" y="329.56" width="3" height="64.64" fill="#E88D8D"/>
<rect x="486.76" y="329.58" width="3" height="64.62" fill="#E88D8D"/>
<rect x="492.3" y="329.59" width="3" height="64.61" fill="#E88D8D"/>
<rect x="497.84" y="329.61" width="3" height="64.59" fill="#E88D8D"/>
<rect x="503.39" y="329.63" width="3" height="64.57" fill="#E88D8D"/>
<rect x="508.93" y="329.64" width="3" height="64.56" fill="#E88D8D"/>
<rect x="514.48" y="329.66" width="3" height="64.54" fill="#E88D8D"/>
<rect x="520.02" y="329.68" width="3" height="64.52" fill="#E88D8D"/>
<rect x="525.56" y="329.69" width="3" height="64.51" fill="#E88D8D"/>
<rect x="531.11" y="329.7" width="3" height="64.5" fill="#E88D8D"/>
<rect x="536.65" y="329.71" width="3" height="64.49" fill="#E88D8D"/>
<rect x="542.2" y="329.72" width="3" height="64.48" fill="#E88D8D"/>
<line x1="211.1" y1="394.6" x2="213.4" y2="394.6" stroke="#333333" stroke-width="0.75"/>
<text class="tl" x="209.2" y="396.27" font-size="6.2" fill="#1E1E1E" font-weight="normal" text-anchor="end">0.00</text>
<line x1="211.1" y1="383.59" x2="213.4" y2="383.59" stroke="#333333" stroke-width="0.75"/>
<text class="tl" x="209.2" y="385.26" font-size="6.2" fill="#1E1E1E" font-weight="normal" text-anchor="end">0.05</text>
<line x1="211.1" y1="372.57" x2="213.4" y2="372.57" stroke="#333333" stroke-width="0.75"/>
<text class="tl" x="209.2" y="374.24" font-size="6.2" fill="#1E1E1E" font-weight="normal" text-anchor="end">0.10</text>
<line x1="211.1" y1="361.56" x2="213.4" y2="361.56" stroke="#333333" stroke-width="0.75"/>
<text class="tl" x="209.2" y="363.23" font-size="6.2" fill="#1E1E1E" font-weight="normal" text-anchor="end">0.15</text>
<line x1="211.1" y1="350.54" x2="213.4" y2="350.54" stroke="#333333" stroke-width="0.75"/>
<text class="tl" x="209.2" y="352.21" font-size="6.2" fill="#1E1E1E" font-weight="normal" text-anchor="end">0.20</text>
<line x1="211.1" y1="339.53" x2="213.4" y2="339.53" stroke="#333333" stroke-width="0.75"/>
<text class="tl" x="209.2" y="341.2" font-size="6.2" fill="#1E1E1E" font-weight="normal" text-anchor="end">0.25</text>
<line x1="211.1" y1="328.51" x2="213.4" y2="328.51" stroke="#333333" stroke-width="0.75"/>
<text class="tl" x="209.2" y="330.18" font-size="6.2" fill="#1E1E1E" font-weight="normal" text-anchor="end">0.30</text>
<line x1="211.1" y1="317.5" x2="213.4" y2="317.5" stroke="#333333" stroke-width="0.75"/>
<text class="tl" x="209.2" y="319.17" font-size="6.2" fill="#1E1E1E" font-weight="normal" text-anchor="end">0.35</text>
<line x1="216.6" y1="395.6" x2="216.6" y2="397.1" stroke="#333333" stroke-width="0.75"/>
<text class="tn" transform="translate(218.1,399.2) rotate(-90) scale(1.0,0.95)" font-size="4.5" fill="#3A3A3A" font-weight="normal" text-anchor="end">BO-ANN</text>
<line x1="222.14" y1="395.6" x2="222.14" y2="397.1" stroke="#333333" stroke-width="0.75"/>
<text class="tn" transform="translate(223.64,399.2) rotate(-90) scale(1.0,0.95)" font-size="4.5" fill="#3A3A3A" font-weight="normal" text-anchor="end">GA-ANN</text>
<line x1="227.69" y1="395.6" x2="227.69" y2="397.1" stroke="#333333" stroke-width="0.75"/>
<text class="tn" transform="translate(229.18,399.2) rotate(-90) scale(1.0,0.95)" font-size="4.5" fill="#3A3A3A" font-weight="normal" text-anchor="end">SMA-ANN</text>
<line x1="233.23" y1="395.6" x2="233.23" y2="397.1" stroke="#333333" stroke-width="0.75"/>
<text class="tn" transform="translate(234.73,399.2) rotate(-90) scale(1.0,0.95)" font-size="4.5" fill="#3A3A3A" font-weight="normal" text-anchor="end">FPA-RF</text>
<line x1="238.78" y1="395.6" x2="238.78" y2="397.1" stroke="#333333" stroke-width="0.75"/>
<text class="tn" transform="translate(240.27,399.2) rotate(-90) scale(1.0,0.95)" font-size="4.5" fill="#3A3A3A" font-weight="normal" text-anchor="end">SOS-ANN</text>
<line x1="244.32" y1="395.6" x2="244.32" y2="397.1" stroke="#333333" stroke-width="0.75"/>
<text class="tn" transform="translate(245.82,399.2) rotate(-90) scale(1.0,0.95)" font-size="4.5" fill="#3A3A3A" font-weight="normal" text-anchor="end">DE-RF</text>
<line x1="249.86" y1="395.6" x2="249.86" y2="397.1" stroke="#333333" stroke-width="0.75"/>
<text class="tn" transform="translate(251.36,399.2) rotate(-90) scale(1.0,0.95)" font-size="4.5" fill="#3A3A3A" font-weight="normal" text-anchor="end">SOA-ANN</text>
<line x1="255.41" y1="395.6" x2="255.41" y2="397.1" stroke="#333333" stroke-width="0.75"/>
<text class="tn" transform="translate(256.9,399.2) rotate(-90) scale(1.0,0.95)" font-size="4.5" fill="#3A3A3A" font-weight="normal" text-anchor="end">GWO-ANN</text>
<line x1="260.95" y1="395.6" x2="260.95" y2="397.1" stroke="#333333" stroke-width="0.75"/>
<text class="tn" transform="translate(262.45,399.2) rotate(-90) scale(1.0,0.95)" font-size="4.5" fill="#3A3A3A" font-weight="normal" text-anchor="end">FPA-ANN</text>
<line x1="266.5" y1="395.6" x2="266.5" y2="397.1" stroke="#333333" stroke-width="0.75"/>
<text class="tn" transform="translate(267.99,399.2) rotate(-90) scale(1.0,0.95)" font-size="4.5" fill="#3A3A3A" font-weight="normal" text-anchor="end">TSO-ANN</text>
<line x1="272.04" y1="395.6" x2="272.04" y2="397.1" stroke="#333333" stroke-width="0.75"/>
<text class="tn" transform="translate(273.54,399.2) rotate(-90) scale(1.0,0.95)" font-size="4.5" fill="#3A3A3A" font-weight="normal" text-anchor="end">DE-ANN</text>
<line x1="277.58" y1="395.6" x2="277.58" y2="397.1" stroke="#333333" stroke-width="0.75"/>
<text class="tn" transform="translate(279.08,399.2) rotate(-90) scale(1.0,0.95)" font-size="4.5" fill="#3A3A3A" font-weight="normal" text-anchor="end">BO-EN</text>
<line x1="283.13" y1="395.6" x2="283.13" y2="397.1" stroke="#333333" stroke-width="0.75"/>
<text class="tn" transform="translate(284.62,399.2) rotate(-90) scale(1.0,0.95)" font-size="4.5" fill="#3A3A3A" font-weight="normal" text-anchor="end">SMA-EN</text>
<line x1="288.67" y1="395.6" x2="288.67" y2="397.1" stroke="#333333" stroke-width="0.75"/>
<text class="tn" transform="translate(290.17,399.2) rotate(-90) scale(1.0,0.95)" font-size="4.5" fill="#3A3A3A" font-weight="normal" text-anchor="end">GA-EN</text>
<line x1="294.22" y1="395.6" x2="294.22" y2="397.1" stroke="#333333" stroke-width="0.75"/>
<text class="tn" transform="translate(295.71,399.2) rotate(-90) scale(1.0,0.95)" font-size="4.5" fill="#3A3A3A" font-weight="normal" text-anchor="end">SOA-EN</text>
<line x1="299.76" y1="395.6" x2="299.76" y2="397.1" stroke="#333333" stroke-width="0.75"/>
<text class="tn" transform="translate(301.26,399.2) rotate(-90) scale(1.0,0.95)" font-size="4.5" fill="#3A3A3A" font-weight="normal" text-anchor="end">FPA-EN</text>
<line x1="305.3" y1="395.6" x2="305.3" y2="397.1" stroke="#333333" stroke-width="0.75"/>
<text class="tn" transform="translate(306.8,399.2) rotate(-90) scale(1.0,0.95)" font-size="4.5" fill="#3A3A3A" font-weight="normal" text-anchor="end">TSO-EN</text>
<line x1="310.85" y1="395.6" x2="310.85" y2="397.1" stroke="#333333" stroke-width="0.75"/>
<text class="tn" transform="translate(312.34,399.2) rotate(-90) scale(1.0,0.95)" font-size="4.5" fill="#3A3A3A" font-weight="normal" text-anchor="end">DE-EN</text>
<line x1="316.39" y1="395.6" x2="316.39" y2="397.1" stroke="#333333" stroke-width="0.75"/>
<text class="tn" transform="translate(317.89,399.2) rotate(-90) scale(1.0,0.95)" font-size="4.5" fill="#3A3A3A" font-weight="normal" text-anchor="end">PSO-EN</text>
<line x1="321.94" y1="395.6" x2="321.94" y2="397.1" stroke="#333333" stroke-width="0.75"/>
<text class="tn" transform="translate(323.43,399.2) rotate(-90) scale(1.0,0.95)" font-size="4.5" fill="#3A3A3A" font-weight="normal" text-anchor="end">GWO-EN</text>
<line x1="327.48" y1="395.6" x2="327.48" y2="397.1" stroke="#333333" stroke-width="0.75"/>
<text class="tn" transform="translate(328.98,399.2) rotate(-90) scale(1.0,0.95)" font-size="4.5" fill="#3A3A3A" font-weight="normal" text-anchor="end">SOS-EN</text>
<line x1="333.02" y1="395.6" x2="333.02" y2="397.1" stroke="#333333" stroke-width="0.75"/>
<text class="tn" transform="translate(334.52,399.2) rotate(-90) scale(1.0,0.95)" font-size="4.5" fill="#3A3A3A" font-weight="normal" text-anchor="end">PSO-ANN</text>
<line x1="338.57" y1="395.6" x2="338.57" y2="397.1" stroke="#333333" stroke-width="0.75"/>
<text class="tn" transform="translate(340.06,399.2) rotate(-90) scale(1.0,0.95)" font-size="4.5" fill="#3A3A3A" font-weight="normal" text-anchor="end">SOS-RF</text>
<line x1="344.11" y1="395.6" x2="344.11" y2="397.1" stroke="#333333" stroke-width="0.75"/>
<text class="tn" transform="translate(345.61,399.2) rotate(-90) scale(1.0,0.95)" font-size="4.5" fill="#3A3A3A" font-weight="normal" text-anchor="end">BO-XGBoost</text>
<line x1="349.66" y1="395.6" x2="349.66" y2="397.1" stroke="#333333" stroke-width="0.75"/>
<text class="tn" transform="translate(351.15,399.2) rotate(-90) scale(1.0,0.95)" font-size="4.5" fill="#3A3A3A" font-weight="normal" text-anchor="end">SMA-RF</text>
<line x1="355.2" y1="395.6" x2="355.2" y2="397.1" stroke="#333333" stroke-width="0.75"/>
<text class="tn" transform="translate(356.7,399.2) rotate(-90) scale(1.0,0.95)" font-size="4.5" fill="#3A3A3A" font-weight="normal" text-anchor="end">SOA-RF</text>
<line x1="360.74" y1="395.6" x2="360.74" y2="397.1" stroke="#333333" stroke-width="0.75"/>
<text class="tn" transform="translate(362.24,399.2) rotate(-90) scale(1.0,0.95)" font-size="4.5" fill="#3A3A3A" font-weight="normal" text-anchor="end">GA-RF</text>
<line x1="366.29" y1="395.6" x2="366.29" y2="397.1" stroke="#333333" stroke-width="0.75"/>
<text class="tn" transform="translate(367.78,399.2) rotate(-90) scale(1.0,0.95)" font-size="4.5" fill="#3A3A3A" font-weight="normal" text-anchor="end">TSO-RF</text>
<line x1="371.83" y1="395.6" x2="371.83" y2="397.1" stroke="#333333" stroke-width="0.75"/>
<text class="tn" transform="translate(373.33,399.2) rotate(-90) scale(1.0,0.95)" font-size="4.5" fill="#3A3A3A" font-weight="normal" text-anchor="end">BO-RF</text>
<line x1="377.38" y1="395.6" x2="377.38" y2="397.1" stroke="#333333" stroke-width="0.75"/>
<text class="tn" transform="translate(378.87,399.2) rotate(-90) scale(1.0,0.95)" font-size="4.5" fill="#3A3A3A" font-weight="normal" text-anchor="end">BO-LightGBM</text>
<line x1="382.92" y1="395.6" x2="382.92" y2="397.1" stroke="#333333" stroke-width="0.75"/>
<text class="tn" transform="translate(384.42,399.2) rotate(-90) scale(1.0,0.95)" font-size="4.5" fill="#3A3A3A" font-weight="normal" text-anchor="end">GWO-RF</text>
<line x1="388.46" y1="395.6" x2="388.46" y2="397.1" stroke="#333333" stroke-width="0.75"/>
<text class="tn" transform="translate(389.96,399.2) rotate(-90) scale(1.0,0.95)" font-size="4.5" fill="#3A3A3A" font-weight="normal" text-anchor="end">SOA-XGBoost</text>
<line x1="394.01" y1="395.6" x2="394.01" y2="397.1" stroke="#333333" stroke-width="0.75"/>
<text class="tn" transform="translate(395.5,399.2) rotate(-90) scale(1.0,0.95)" font-size="4.5" fill="#3A3A3A" font-weight="normal" text-anchor="end">PSO-RF</text>
<line x1="399.55" y1="395.6" x2="399.55" y2="397.1" stroke="#333333" stroke-width="0.75"/>
<text class="tn" transform="translate(401.05,399.2) rotate(-90) scale(1.0,0.95)" font-size="4.5" fill="#3A3A3A" font-weight="normal" text-anchor="end">BO-CatBoost</text>
<line x1="405.1" y1="395.6" x2="405.1" y2="397.1" stroke="#333333" stroke-width="0.75"/>
<text class="tn" transform="translate(406.59,399.2) rotate(-90) scale(1.0,0.95)" font-size="4.5" fill="#3A3A3A" font-weight="normal" text-anchor="end">SMA-LightGBM</text>
<line x1="410.64" y1="395.6" x2="410.64" y2="397.1" stroke="#333333" stroke-width="0.75"/>
<text class="tn" transform="translate(412.14,399.2) rotate(-90) scale(1.0,0.95)" font-size="4.5" fill="#3A3A3A" font-weight="normal" text-anchor="end">GA-XGBoost</text>
<line x1="416.18" y1="395.6" x2="416.18" y2="397.1" stroke="#333333" stroke-width="0.75"/>
<text class="tn" transform="translate(417.68,399.2) rotate(-90) scale(1.0,0.95)" font-size="4.5" fill="#3A3A3A" font-weight="normal" text-anchor="end">GA-LightGBM</text>
<line x1="421.73" y1="395.6" x2="421.73" y2="397.1" stroke="#333333" stroke-width="0.75"/>
<text class="tn" transform="translate(423.22,399.2) rotate(-90) scale(1.0,0.95)" font-size="4.5" fill="#3A3A3A" font-weight="normal" text-anchor="end">FPA-XGBoost</text>
<line x1="427.27" y1="395.6" x2="427.27" y2="397.1" stroke="#333333" stroke-width="0.75"/>
<text class="tn" transform="translate(428.77,399.2) rotate(-90) scale(1.0,0.95)" font-size="4.5" fill="#3A3A3A" font-weight="normal" text-anchor="end">FPA-LightGBM</text>
<line x1="432.82" y1="395.6" x2="432.82" y2="397.1" stroke="#333333" stroke-width="0.75"/>
<text class="tn" transform="translate(434.31,399.2) rotate(-90) scale(1.0,0.95)" font-size="4.5" fill="#3A3A3A" font-weight="normal" text-anchor="end">PSO-LightGBM</text>
<line x1="438.36" y1="395.6" x2="438.36" y2="397.1" stroke="#333333" stroke-width="0.75"/>
<text class="tn" transform="translate(439.86,399.2) rotate(-90) scale(1.0,0.95)" font-size="4.5" fill="#3A3A3A" font-weight="normal" text-anchor="end">SOS-LightGBM</text>
<line x1="443.9" y1="395.6" x2="443.9" y2="397.1" stroke="#333333" stroke-width="0.75"/>
<text class="tn" transform="translate(445.4,399.2) rotate(-90) scale(1.0,0.95)" font-size="4.5" fill="#3A3A3A" font-weight="normal" text-anchor="end">SOA-LightGBM</text>
<line x1="449.45" y1="395.6" x2="449.45" y2="397.1" stroke="#333333" stroke-width="0.75"/>
<text class="tn" transform="translate(450.94,399.2) rotate(-90) scale(1.0,0.95)" font-size="4.5" fill="#3A3A3A" font-weight="normal" text-anchor="end">DE-LightGBM</text>
<line x1="454.99" y1="395.6" x2="454.99" y2="397.1" stroke="#333333" stroke-width="0.75"/>
<text class="tn" transform="translate(456.49,399.2) rotate(-90) scale(1.0,0.95)" font-size="4.5" fill="#3A3A3A" font-weight="normal" text-anchor="end">GWO-LightGBM</text>
<line x1="460.54" y1="395.6" x2="460.54" y2="397.1" stroke="#333333" stroke-width="0.75"/>
<text class="tn" transform="translate(462.03,399.2) rotate(-90) scale(1.0,0.95)" font-size="4.5" fill="#3A3A3A" font-weight="normal" text-anchor="end">PSO-XGBoost</text>
<line x1="466.08" y1="395.6" x2="466.08" y2="397.1" stroke="#333333" stroke-width="0.75"/>
<text class="tn" transform="translate(467.58,399.2) rotate(-90) scale(1.0,0.95)" font-size="4.5" fill="#3A3A3A" font-weight="normal" text-anchor="end">TSO-LightGBM</text>
<line x1="471.62" y1="395.6" x2="471.62" y2="397.1" stroke="#333333" stroke-width="0.75"/>
<text class="tn" transform="translate(473.12,399.2) rotate(-90) scale(1.0,0.95)" font-size="4.5" fill="#3A3A3A" font-weight="normal" text-anchor="end">DE-XGBoost</text>
<line x1="477.17" y1="395.6" x2="477.17" y2="397.1" stroke="#333333" stroke-width="0.75"/>
<text class="tn" transform="translate(478.66,399.2) rotate(-90) scale(1.0,0.95)" font-size="4.5" fill="#3A3A3A" font-weight="normal" text-anchor="end">SMA-XGBoost</text>
<line x1="482.71" y1="395.6" x2="482.71" y2="397.1" stroke="#333333" stroke-width="0.75"/>
<text class="tn" transform="translate(484.21,399.2) rotate(-90) scale(1.0,0.95)" font-size="4.5" fill="#3A3A3A" font-weight="normal" text-anchor="end">SOS-XGBoost</text>
<line x1="488.26" y1="395.6" x2="488.26" y2="397.1" stroke="#333333" stroke-width="0.75"/>
<text class="tn" transform="translate(489.75,399.2) rotate(-90) scale(1.0,0.95)" font-size="4.5" fill="#3A3A3A" font-weight="normal" text-anchor="end">SOA-CatBoost</text>
<line x1="493.8" y1="395.6" x2="493.8" y2="397.1" stroke="#333333" stroke-width="0.75"/>
<text class="tn" transform="translate(495.3,399.2) rotate(-90) scale(1.0,0.95)" font-size="4.5" fill="#3A3A3A" font-weight="normal" text-anchor="end">TSO-XGBoost</text>
<line x1="499.34" y1="395.6" x2="499.34" y2="397.1" stroke="#333333" stroke-width="0.75"/>
<text class="tn" transform="translate(500.84,399.2) rotate(-90) scale(1.0,0.95)" font-size="4.5" fill="#3A3A3A" font-weight="normal" text-anchor="end">FPA-CatBoost</text>
<line x1="504.89" y1="395.6" x2="504.89" y2="397.1" stroke="#333333" stroke-width="0.75"/>
<text class="tn" transform="translate(506.38,399.2) rotate(-90) scale(1.0,0.95)" font-size="4.5" fill="#3A3A3A" font-weight="normal" text-anchor="end">SMA-CatBoost</text>
<line x1="510.43" y1="395.6" x2="510.43" y2="397.1" stroke="#333333" stroke-width="0.75"/>
<text class="tn" transform="translate(511.93,399.2) rotate(-90) scale(1.0,0.95)" font-size="4.5" fill="#3A3A3A" font-weight="normal" text-anchor="end">GWO-XGBoost</text>
<line x1="515.98" y1="395.6" x2="515.98" y2="397.1" stroke="#333333" stroke-width="0.75"/>
<text class="tn" transform="translate(517.47,399.2) rotate(-90) scale(1.0,0.95)" font-size="4.5" fill="#3A3A3A" font-weight="normal" text-anchor="end">PSO-CatBoost</text>
<line x1="521.52" y1="395.6" x2="521.52" y2="397.1" stroke="#333333" stroke-width="0.75"/>
<text class="tn" transform="translate(523.02,399.2) rotate(-90) scale(1.0,0.95)" font-size="4.5" fill="#3A3A3A" font-weight="normal" text-anchor="end">GWO-CatBoost</text>
<line x1="527.06" y1="395.6" x2="527.06" y2="397.1" stroke="#333333" stroke-width="0.75"/>
<text class="tn" transform="translate(528.56,399.2) rotate(-90) scale(1.0,0.95)" font-size="4.5" fill="#3A3A3A" font-weight="normal" text-anchor="end">GA-CatBoost</text>
<line x1="532.61" y1="395.6" x2="532.61" y2="397.1" stroke="#333333" stroke-width="0.75"/>
<text class="tn" transform="translate(534.1,399.2) rotate(-90) scale(1.0,0.95)" font-size="4.5" fill="#3A3A3A" font-weight="normal" text-anchor="end">DE-CatBoost</text>
<line x1="538.15" y1="395.6" x2="538.15" y2="397.1" stroke="#333333" stroke-width="0.75"/>
<text class="tn" transform="translate(539.65,399.2) rotate(-90) scale(1.0,0.95)" font-size="4.5" fill="#3A3A3A" font-weight="normal" text-anchor="end">TSO-CatBoost</text>
<line x1="543.7" y1="395.6" x2="543.7" y2="397.1" stroke="#333333" stroke-width="0.75"/>
<text class="tn" transform="translate(545.19,399.2) rotate(-90) scale(1.0,0.95)" font-size="4.5" fill="#3A3A3A" font-weight="normal" text-anchor="end">SOS-CatBoost</text>
<text class="tt" transform="translate(225.6,304) scale(1.02,1)" font-size="11.6" fill="#1A1A1A"><tspan font-size="10.4">(</tspan><tspan font-weight="bold">d</tspan><tspan font-size="10.4">)</tspan><tspan> RMSE</tspan></text>
<text transform="translate(196.2,352.8) rotate(-90) scale(0.93,1)" font-size="7.9" fill="#1A1A1A" text-anchor="middle">RMSE (°C)</text>
</svg>
</body></html>
